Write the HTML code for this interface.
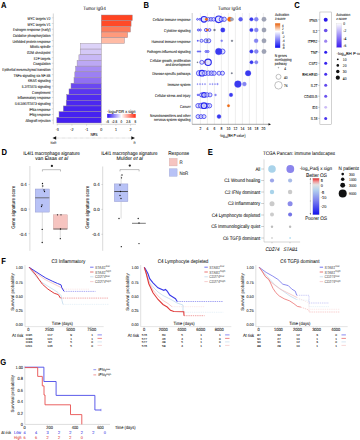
<!DOCTYPE html>
<html><head><meta charset="utf-8"><style>
html,body{margin:0;padding:0;background:#fff;width:360px;height:440px;overflow:hidden}
svg{display:block}
text{font-family:"Liberation Sans", sans-serif;text-rendering:geometricPrecision}
</style></head><body>
<svg width="360" height="440" viewBox="0 0 360 440">
<rect width="360" height="440" fill="#fff"/>
<text x="1.00" y="7.64" font-size="8.74" text-anchor="start" fill="#000" stroke="#000" stroke-width="0.06" font-weight="bold" textLength="5.49" lengthAdjust="spacingAndGlyphs" >A</text>
<text x="94.50" y="9.91" font-size="4.83" text-anchor="middle" fill="#222" stroke="#222" stroke-width="0.06" textLength="22.50" lengthAdjust="spacingAndGlyphs" >Tumor IgG4</text>
<line x1="53.30" y1="13.50" x2="53.30" y2="124.30" stroke="#aaa" stroke-width="0.5" />
<line x1="56.80" y1="124.30" x2="136.00" y2="124.30" stroke="#aaa" stroke-width="0.5" />
<line x1="51.80" y1="17.84" x2="53.30" y2="17.84" stroke="#aaa" stroke-width="0.4" />
<text x="50.50" y="19.81" font-size="3.96" text-anchor="end" fill="#111" stroke="#111" stroke-width="0.07" textLength="22.94" lengthAdjust="spacingAndGlyphs" >MYC targets V2</text>
<line x1="51.80" y1="23.53" x2="53.30" y2="23.53" stroke="#aaa" stroke-width="0.4" />
<text x="50.50" y="25.50" font-size="3.96" text-anchor="end" fill="#111" stroke="#111" stroke-width="0.07" textLength="22.94" lengthAdjust="spacingAndGlyphs" >MYC targets V1</text>
<line x1="51.80" y1="29.21" x2="53.30" y2="29.21" stroke="#aaa" stroke-width="0.4" />
<text x="50.50" y="31.18" font-size="3.96" text-anchor="end" fill="#111" stroke="#111" stroke-width="0.07" textLength="37.39" lengthAdjust="spacingAndGlyphs" >Estrogen response (early)</text>
<line x1="51.80" y1="34.89" x2="53.30" y2="34.89" stroke="#aaa" stroke-width="0.4" />
<text x="50.50" y="36.86" font-size="3.96" text-anchor="end" fill="#111" stroke="#111" stroke-width="0.07" textLength="37.40" lengthAdjust="spacingAndGlyphs" >Oxidative phosphorylation</text>
<line x1="51.80" y1="40.58" x2="53.30" y2="40.58" stroke="#aaa" stroke-width="0.4" />
<text x="50.50" y="42.55" font-size="3.96" text-anchor="end" fill="#111" stroke="#111" stroke-width="0.07" textLength="38.12" lengthAdjust="spacingAndGlyphs" >Unfolded protein response</text>
<line x1="51.80" y1="46.26" x2="53.30" y2="46.26" stroke="#aaa" stroke-width="0.4" />
<text x="50.50" y="48.23" font-size="3.96" text-anchor="end" fill="#111" stroke="#111" stroke-width="0.07" textLength="20.59" lengthAdjust="spacingAndGlyphs" >Mitotic spindle</text>
<line x1="51.80" y1="51.95" x2="53.30" y2="51.95" stroke="#aaa" stroke-width="0.4" />
<text x="50.50" y="53.92" font-size="3.96" text-anchor="end" fill="#111" stroke="#111" stroke-width="0.07" textLength="23.48" lengthAdjust="spacingAndGlyphs" >G2M checkpoint</text>
<line x1="51.80" y1="57.63" x2="53.30" y2="57.63" stroke="#aaa" stroke-width="0.4" />
<text x="50.50" y="59.60" font-size="3.96" text-anchor="end" fill="#111" stroke="#111" stroke-width="0.07" textLength="16.80" lengthAdjust="spacingAndGlyphs" >E2F targets</text>
<line x1="51.80" y1="63.31" x2="53.30" y2="63.31" stroke="#aaa" stroke-width="0.4" />
<text x="50.50" y="65.28" font-size="3.96" text-anchor="end" fill="#111" stroke="#111" stroke-width="0.07" textLength="17.35" lengthAdjust="spacingAndGlyphs" >Coagulation</text>
<line x1="51.80" y1="69.00" x2="53.30" y2="69.00" stroke="#aaa" stroke-width="0.4" />
<text x="50.50" y="70.97" font-size="3.96" text-anchor="end" fill="#111" stroke="#111" stroke-width="0.07" textLength="48.23" lengthAdjust="spacingAndGlyphs" >Epithelial mesenchymal transition</text>
<line x1="51.80" y1="74.68" x2="53.30" y2="74.68" stroke="#aaa" stroke-width="0.4" />
<text x="50.50" y="76.65" font-size="3.96" text-anchor="end" fill="#111" stroke="#111" stroke-width="0.07" textLength="37.02" lengthAdjust="spacingAndGlyphs" >TNFa signaling via NF-kB</text>
<line x1="51.80" y1="80.37" x2="53.30" y2="80.37" stroke="#aaa" stroke-width="0.4" />
<text x="50.50" y="82.34" font-size="3.96" text-anchor="end" fill="#111" stroke="#111" stroke-width="0.07" textLength="22.58" lengthAdjust="spacingAndGlyphs" >KRAS signaling</text>
<line x1="51.80" y1="86.05" x2="53.30" y2="86.05" stroke="#aaa" stroke-width="0.4" />
<text x="50.50" y="88.02" font-size="3.96" text-anchor="end" fill="#111" stroke="#111" stroke-width="0.07" textLength="28.78" lengthAdjust="spacingAndGlyphs" >IL2/STAT5 signaling</text>
<line x1="51.80" y1="91.73" x2="53.30" y2="91.73" stroke="#aaa" stroke-width="0.4" />
<text x="50.50" y="93.70" font-size="3.96" text-anchor="end" fill="#111" stroke="#111" stroke-width="0.07" textLength="18.42" lengthAdjust="spacingAndGlyphs" >Complement</text>
<line x1="51.80" y1="97.42" x2="53.30" y2="97.42" stroke="#aaa" stroke-width="0.4" />
<text x="50.50" y="99.39" font-size="3.96" text-anchor="end" fill="#111" stroke="#111" stroke-width="0.07" textLength="33.06" lengthAdjust="spacingAndGlyphs" >Inflammatory response</text>
<line x1="51.80" y1="103.10" x2="53.30" y2="103.10" stroke="#aaa" stroke-width="0.4" />
<text x="50.50" y="105.07" font-size="3.96" text-anchor="end" fill="#111" stroke="#111" stroke-width="0.07" textLength="35.65" lengthAdjust="spacingAndGlyphs" >IL6/JAK/STAT3 signaling</text>
<line x1="51.80" y1="108.79" x2="53.30" y2="108.79" stroke="#aaa" stroke-width="0.4" />
<text x="50.50" y="110.76" font-size="3.96" text-anchor="end" fill="#111" stroke="#111" stroke-width="0.07" textLength="21.32" lengthAdjust="spacingAndGlyphs" >IFNa response</text>
<line x1="51.80" y1="114.47" x2="53.30" y2="114.47" stroke="#aaa" stroke-width="0.4" />
<text x="50.50" y="116.44" font-size="3.96" text-anchor="end" fill="#111" stroke="#111" stroke-width="0.07" textLength="21.32" lengthAdjust="spacingAndGlyphs" >IFNg response</text>
<line x1="51.80" y1="120.15" x2="53.30" y2="120.15" stroke="#aaa" stroke-width="0.4" />
<text x="50.50" y="122.12" font-size="3.96" text-anchor="end" fill="#111" stroke="#111" stroke-width="0.07" textLength="25.11" lengthAdjust="spacingAndGlyphs" >Allograft rejection</text>
<rect x="101.25" y="15.00" width="31.05" height="5.68" fill="#ff4422" stroke="#9a8f9a" stroke-width="0.45" />
<rect x="101.25" y="20.68" width="29.85" height="5.68" fill="#ff4a28" stroke="#9a8f9a" stroke-width="0.45" />
<rect x="101.25" y="26.37" width="29.25" height="5.68" fill="#ff7a58" stroke="#9a8f9a" stroke-width="0.45" />
<rect x="101.25" y="32.05" width="26.45" height="5.68" fill="#ff9a7c" stroke="#9a8f9a" stroke-width="0.45" />
<rect x="101.25" y="37.74" width="23.25" height="5.68" fill="#ffbba5" stroke="#9a8f9a" stroke-width="0.45" />
<rect x="80.60" y="43.42" width="20.65" height="5.68" fill="#dcd2f8" stroke="#9a8f9a" stroke-width="0.45" />
<rect x="80.20" y="49.10" width="21.05" height="5.68" fill="#d4c8f7" stroke="#9a8f9a" stroke-width="0.45" />
<rect x="78.90" y="54.79" width="22.35" height="5.68" fill="#c8b8f6" stroke="#9a8f9a" stroke-width="0.45" />
<rect x="77.10" y="60.47" width="24.15" height="5.68" fill="#bca8f5" stroke="#9a8f9a" stroke-width="0.45" />
<rect x="75.60" y="66.16" width="25.65" height="5.68" fill="#a68cf4" stroke="#9a8f9a" stroke-width="0.45" />
<rect x="74.80" y="71.84" width="26.45" height="5.68" fill="#9c80f3" stroke="#9a8f9a" stroke-width="0.45" />
<rect x="74.00" y="77.52" width="27.25" height="5.68" fill="#9070f2" stroke="#9a8f9a" stroke-width="0.45" />
<rect x="71.00" y="83.21" width="30.25" height="5.68" fill="#6a48f1" stroke="#9a8f9a" stroke-width="0.45" />
<rect x="69.00" y="88.89" width="32.25" height="5.68" fill="#5a36f0" stroke="#9a8f9a" stroke-width="0.45" />
<rect x="66.70" y="94.58" width="34.55" height="5.68" fill="#502cf0" stroke="#9a8f9a" stroke-width="0.45" />
<rect x="66.20" y="100.26" width="35.05" height="5.68" fill="#4c28f0" stroke="#9a8f9a" stroke-width="0.45" />
<rect x="63.30" y="105.94" width="37.95" height="5.68" fill="#4824f0" stroke="#9a8f9a" stroke-width="0.45" />
<rect x="59.00" y="111.63" width="42.25" height="5.68" fill="#4622f0" stroke="#9a8f9a" stroke-width="0.45" />
<rect x="56.80" y="117.31" width="44.45" height="5.68" fill="#4420f0" stroke="#9a8f9a" stroke-width="0.45" />
<line x1="57.24" y1="124.30" x2="57.24" y2="125.60" stroke="#aaa" stroke-width="0.4" />
<text x="57.24" y="130.70" font-size="4.39" text-anchor="middle" fill="#111" stroke="#111" stroke-width="0.07" textLength="3.20" lengthAdjust="spacingAndGlyphs" >-3</text>
<line x1="71.91" y1="124.30" x2="71.91" y2="125.60" stroke="#aaa" stroke-width="0.4" />
<text x="71.91" y="130.70" font-size="4.39" text-anchor="middle" fill="#111" stroke="#111" stroke-width="0.07" textLength="3.20" lengthAdjust="spacingAndGlyphs" >-2</text>
<line x1="86.58" y1="124.30" x2="86.58" y2="125.60" stroke="#aaa" stroke-width="0.4" />
<text x="86.58" y="130.70" font-size="4.39" text-anchor="middle" fill="#111" stroke="#111" stroke-width="0.07" textLength="3.20" lengthAdjust="spacingAndGlyphs" >-1</text>
<line x1="101.25" y1="124.30" x2="101.25" y2="125.60" stroke="#aaa" stroke-width="0.4" />
<text x="101.25" y="130.70" font-size="4.39" text-anchor="middle" fill="#111" stroke="#111" stroke-width="0.07" textLength="2.00" lengthAdjust="spacingAndGlyphs" >0</text>
<line x1="115.92" y1="124.30" x2="115.92" y2="125.60" stroke="#aaa" stroke-width="0.4" />
<text x="115.92" y="130.70" font-size="4.39" text-anchor="middle" fill="#111" stroke="#111" stroke-width="0.07" textLength="2.00" lengthAdjust="spacingAndGlyphs" >1</text>
<line x1="130.59" y1="124.30" x2="130.59" y2="125.60" stroke="#aaa" stroke-width="0.4" />
<text x="130.59" y="130.70" font-size="4.39" text-anchor="middle" fill="#111" stroke="#111" stroke-width="0.07" textLength="2.00" lengthAdjust="spacingAndGlyphs" >2</text>
<text x="94.00" y="135.86" font-size="4.27" text-anchor="middle" fill="#111" stroke="#111" stroke-width="0.07" textLength="7.20" lengthAdjust="spacingAndGlyphs" >NES</text>
<line x1="56.00" y1="138.00" x2="132.00" y2="138.00" stroke="#999" stroke-width="0.5" stroke-dasharray="0.6 0.6"/>
<polygon points="52.5,138 56.2,136.2 56.2,139.8" fill="#111"/>
<polygon points="135,138 131.3,136.2 131.3,139.8" fill="#111"/>
<text x="53.50" y="143.84" font-size="3.54" text-anchor="middle" fill="#222" stroke="#222" stroke-width="0.07" textLength="5.80" lengthAdjust="spacingAndGlyphs" >NoR</text>
<text x="134.50" y="143.84" font-size="3.54" text-anchor="middle" fill="#222" stroke="#222" stroke-width="0.07" textLength="2.09" lengthAdjust="spacingAndGlyphs" >R</text>
<text x="121.30" y="112.58" font-size="4.33" text-anchor="middle" fill="#111" stroke="#111" stroke-width="0.07" textLength="28.40" lengthAdjust="spacingAndGlyphs" >-log<tspan font-size="2.4" dy="0.9">10</tspan><tspan dy="-0.9">FDR x sign</tspan></text>
<defs><linearGradient id="gA" x1="0" x2="1" y1="0" y2="0"><stop offset="0" stop-color="#2a10f0"/><stop offset="0.5" stop-color="#ffffff"/><stop offset="1" stop-color="#ff2a10"/></linearGradient></defs>
<rect x="107.20" y="113.90" width="28.50" height="3.90" fill="url(#gA)" stroke="none" stroke-width="0.4" />
<text x="107.50" y="122.52" font-size="3.78" text-anchor="middle" fill="#111" stroke="#111" stroke-width="0.07" textLength="2.76" lengthAdjust="spacingAndGlyphs" >-5</text>
<text x="114.50" y="122.52" font-size="3.78" text-anchor="middle" fill="#111" stroke="#111" stroke-width="0.07" textLength="5.34" lengthAdjust="spacingAndGlyphs" >-2.5</text>
<text x="121.30" y="122.52" font-size="3.78" text-anchor="middle" fill="#111" stroke="#111" stroke-width="0.07" textLength="1.72" lengthAdjust="spacingAndGlyphs" >0</text>
<text x="128.30" y="122.52" font-size="3.78" text-anchor="middle" fill="#111" stroke="#111" stroke-width="0.07" textLength="4.31" lengthAdjust="spacingAndGlyphs" >2.5</text>
<text x="135.30" y="122.52" font-size="3.78" text-anchor="middle" fill="#111" stroke="#111" stroke-width="0.07" textLength="1.72" lengthAdjust="spacingAndGlyphs" >5</text>
<text x="143.50" y="7.94" font-size="8.74" text-anchor="start" fill="#000" stroke="#000" stroke-width="0.06" font-weight="bold" textLength="5.49" lengthAdjust="spacingAndGlyphs" >B</text>
<text x="229.50" y="9.91" font-size="4.83" text-anchor="middle" fill="#222" stroke="#222" stroke-width="0.06" textLength="22.80" lengthAdjust="spacingAndGlyphs" >Tumor IgG4</text>
<text x="190.50" y="21.27" font-size="3.96" text-anchor="end" fill="#111" stroke="#111" stroke-width="0.07" textLength="37.75" lengthAdjust="spacingAndGlyphs" >Cellular immune response</text>
<text x="190.50" y="31.97" font-size="3.96" text-anchor="end" fill="#111" stroke="#111" stroke-width="0.07" textLength="26.38" lengthAdjust="spacingAndGlyphs" >Cytokine signaling</text>
<text x="190.50" y="42.77" font-size="3.96" text-anchor="end" fill="#111" stroke="#111" stroke-width="0.07" textLength="39.02" lengthAdjust="spacingAndGlyphs" >Humoral immune response</text>
<text x="190.50" y="53.47" font-size="3.96" text-anchor="end" fill="#111" stroke="#111" stroke-width="0.07" textLength="43.55" lengthAdjust="spacingAndGlyphs" >Pathogen-influenced signaling</text>
<text x="190.50" y="62.27" font-size="3.96" text-anchor="end" fill="#111" stroke="#111" stroke-width="0.07" textLength="40.46" lengthAdjust="spacingAndGlyphs" >Cellular growth, proliferation</text>
<text x="190.50" y="66.27" font-size="3.96" text-anchor="end" fill="#111" stroke="#111" stroke-width="0.07" textLength="24.94" lengthAdjust="spacingAndGlyphs" >and development</text>
<text x="190.50" y="75.17" font-size="3.96" text-anchor="end" fill="#111" stroke="#111" stroke-width="0.07" textLength="38.29" lengthAdjust="spacingAndGlyphs" >Disease-specific pathways</text>
<text x="190.50" y="86.07" font-size="3.96" text-anchor="end" fill="#111" stroke="#111" stroke-width="0.07" textLength="22.94" lengthAdjust="spacingAndGlyphs" >Immune system</text>
<text x="190.50" y="96.87" font-size="3.96" text-anchor="end" fill="#111" stroke="#111" stroke-width="0.07" textLength="35.58" lengthAdjust="spacingAndGlyphs" >Cellular stress and injury</text>
<text x="190.50" y="107.67" font-size="3.96" text-anchor="end" fill="#111" stroke="#111" stroke-width="0.07" textLength="10.48" lengthAdjust="spacingAndGlyphs" >Cancer</text>
<text x="190.50" y="116.57" font-size="3.96" text-anchor="end" fill="#111" stroke="#111" stroke-width="0.07" textLength="40.46" lengthAdjust="spacingAndGlyphs" >Neurotransmitters and other</text>
<text x="190.50" y="120.57" font-size="3.96" text-anchor="end" fill="#111" stroke="#111" stroke-width="0.07" textLength="36.49" lengthAdjust="spacingAndGlyphs" >nervous system signaling</text>
<line x1="200.40" y1="13.00" x2="200.40" y2="124.30" stroke="#e2e2e2" stroke-width="0.6" />
<text x="200.40" y="130.32" font-size="4.15" text-anchor="middle" fill="#111" stroke="#111" stroke-width="0.07" textLength="1.89" lengthAdjust="spacingAndGlyphs" >2</text>
<line x1="207.40" y1="13.00" x2="207.40" y2="124.30" stroke="#e2e2e2" stroke-width="0.6" />
<text x="207.40" y="130.32" font-size="4.15" text-anchor="middle" fill="#111" stroke="#111" stroke-width="0.07" textLength="1.89" lengthAdjust="spacingAndGlyphs" >4</text>
<line x1="214.40" y1="13.00" x2="214.40" y2="124.30" stroke="#e2e2e2" stroke-width="0.6" />
<text x="214.40" y="130.32" font-size="4.15" text-anchor="middle" fill="#111" stroke="#111" stroke-width="0.07" textLength="1.89" lengthAdjust="spacingAndGlyphs" >6</text>
<line x1="221.40" y1="13.00" x2="221.40" y2="124.30" stroke="#e2e2e2" stroke-width="0.6" />
<text x="221.40" y="130.32" font-size="4.15" text-anchor="middle" fill="#111" stroke="#111" stroke-width="0.07" textLength="1.89" lengthAdjust="spacingAndGlyphs" >8</text>
<line x1="228.40" y1="13.00" x2="228.40" y2="124.30" stroke="#e2e2e2" stroke-width="0.6" />
<text x="228.40" y="130.32" font-size="4.15" text-anchor="middle" fill="#111" stroke="#111" stroke-width="0.07" textLength="3.78" lengthAdjust="spacingAndGlyphs" >10</text>
<line x1="235.40" y1="13.00" x2="235.40" y2="124.30" stroke="#e2e2e2" stroke-width="0.6" />
<text x="235.40" y="130.32" font-size="4.15" text-anchor="middle" fill="#111" stroke="#111" stroke-width="0.07" textLength="3.78" lengthAdjust="spacingAndGlyphs" >12</text>
<line x1="242.40" y1="13.00" x2="242.40" y2="124.30" stroke="#e2e2e2" stroke-width="0.6" />
<text x="242.40" y="130.32" font-size="4.15" text-anchor="middle" fill="#111" stroke="#111" stroke-width="0.07" textLength="3.78" lengthAdjust="spacingAndGlyphs" >14</text>
<line x1="249.40" y1="13.00" x2="249.40" y2="124.30" stroke="#e2e2e2" stroke-width="0.6" />
<text x="249.40" y="130.32" font-size="4.15" text-anchor="middle" fill="#111" stroke="#111" stroke-width="0.07" textLength="3.78" lengthAdjust="spacingAndGlyphs" >16</text>
<line x1="256.40" y1="13.00" x2="256.40" y2="124.30" stroke="#e2e2e2" stroke-width="0.6" />
<text x="256.40" y="130.32" font-size="4.15" text-anchor="middle" fill="#111" stroke="#111" stroke-width="0.07" textLength="3.78" lengthAdjust="spacingAndGlyphs" >18</text>
<line x1="263.40" y1="13.00" x2="263.40" y2="124.30" stroke="#e2e2e2" stroke-width="0.6" />
<text x="263.40" y="130.32" font-size="4.15" text-anchor="middle" fill="#111" stroke="#111" stroke-width="0.07" textLength="3.78" lengthAdjust="spacingAndGlyphs" >20</text>
<line x1="192.20" y1="13.00" x2="192.20" y2="124.30" stroke="#999" stroke-width="0.5" />
<line x1="192.20" y1="124.30" x2="269.50" y2="124.30" stroke="#222" stroke-width="0.4" />
<polygon points="271,124.3 268.5,123.2 268.5,125.4" fill="#111"/>
<text x="232.50" y="137.36" font-size="4.27" text-anchor="middle" fill="#111" stroke="#111" stroke-width="0.07" textLength="26.00" lengthAdjust="spacingAndGlyphs" >-log<tspan font-size="2.5" dy="0.9">10</tspan><tspan dy="-0.9">(BH P value)</tspan></text>
<circle cx="197.50" cy="19.30" r="0.90" fill="#c8c8fa" stroke="#3535f0" stroke-width="0.75" fill-opacity="0.55"/>
<circle cx="200.00" cy="19.30" r="1.00" fill="#c8c8fa" stroke="#3535f0" stroke-width="0.75" fill-opacity="0.55"/>
<circle cx="204.00" cy="19.30" r="2.80" fill="#d8d8fb" stroke="#2828ee" stroke-width="1.1" fill-opacity="0.7"/>
<circle cx="208.50" cy="19.30" r="1.80" fill="#c8c8fa" stroke="#3535f0" stroke-width="0.75" fill-opacity="0.55"/>
<circle cx="211.00" cy="19.30" r="1.80" fill="#c8c8fa" stroke="#3535f0" stroke-width="0.75" fill-opacity="0.55"/>
<circle cx="213.50" cy="19.30" r="1.80" fill="#c8c8fa" stroke="#3535f0" stroke-width="0.75" fill-opacity="0.55"/>
<circle cx="206.40" cy="19.30" r="1.20" fill="#f26a10" stroke="#e05a00" stroke-width="0.3" />
<circle cx="218.70" cy="19.30" r="3.30" fill="#d8d8fb" stroke="#2828ee" stroke-width="1.1" fill-opacity="0.7"/>
<circle cx="221.50" cy="19.30" r="2.30" fill="#c8c8fa" stroke="#3535f0" stroke-width="0.75" fill-opacity="0.55"/>
<circle cx="224.20" cy="19.30" r="2.20" fill="#c8c8fa" stroke="#3535f0" stroke-width="0.75" fill-opacity="0.55"/>
<circle cx="229.80" cy="19.30" r="2.30" fill="#f26a10" stroke="#e05a00" stroke-width="0.3" />
<circle cx="231.90" cy="19.30" r="1.70" fill="#9ea3b5" stroke="#8e93a5" stroke-width="0.3" />
<circle cx="240.60" cy="19.30" r="2.00" fill="#5c5cf0" stroke="#5050f0" stroke-width="0.3" />
<circle cx="251.40" cy="19.30" r="1.80" fill="#3a3af0" stroke="#3a3af0" stroke-width="0.3" />
<circle cx="256.30" cy="19.30" r="2.00" fill="#8585f2" stroke="#7373f0" stroke-width="0.3" />
<circle cx="264.00" cy="19.30" r="2.20" fill="#9ea3b5" stroke="#8e93a5" stroke-width="0.3" />
<circle cx="198.30" cy="30.00" r="1.00" fill="#c8c8fa" stroke="#3535f0" stroke-width="0.75" fill-opacity="0.55"/>
<circle cx="200.30" cy="30.00" r="1.00" fill="#c8c8fa" stroke="#3535f0" stroke-width="0.75" fill-opacity="0.55"/>
<circle cx="206.00" cy="30.00" r="1.60" fill="#c8c8fa" stroke="#3535f0" stroke-width="0.75" fill-opacity="0.55"/>
<circle cx="209.50" cy="30.00" r="1.40" fill="#c8c8fa" stroke="#3535f0" stroke-width="0.75" fill-opacity="0.55"/>
<circle cx="207.20" cy="30.00" r="1.10" fill="#f26a10" stroke="#e05a00" stroke-width="0.3" />
<circle cx="214.50" cy="30.00" r="1.00" fill="#6e7385" stroke="#6e7385" stroke-width="0.3" />
<circle cx="222.80" cy="30.00" r="2.20" fill="#3a3af0" stroke="#3a3af0" stroke-width="0.3" />
<circle cx="251.40" cy="30.00" r="1.80" fill="#3a3af0" stroke="#3a3af0" stroke-width="0.3" />
<circle cx="256.30" cy="30.00" r="2.00" fill="#8585f2" stroke="#7373f0" stroke-width="0.3" />
<circle cx="264.00" cy="30.00" r="2.20" fill="#9ea3b5" stroke="#8e93a5" stroke-width="0.3" />
<circle cx="197.80" cy="40.80" r="0.70" fill="#3a3af0" stroke="#3a3af0" stroke-width="0.3" />
<circle cx="201.50" cy="40.80" r="1.50" fill="#c8c8fa" stroke="#3535f0" stroke-width="0.75" fill-opacity="0.55"/>
<circle cx="206.00" cy="40.80" r="2.00" fill="#c8c8fa" stroke="#3535f0" stroke-width="0.75" fill-opacity="0.55"/>
<circle cx="208.80" cy="40.80" r="2.00" fill="#c8c8fa" stroke="#3535f0" stroke-width="0.75" fill-opacity="0.55"/>
<circle cx="207.40" cy="40.80" r="0.80" fill="#6e7385" stroke="#6e7385" stroke-width="0.3" />
<circle cx="221.70" cy="40.80" r="1.00" fill="#8585f2" stroke="#7373f0" stroke-width="0.3" />
<circle cx="232.00" cy="40.80" r="0.90" fill="#6e7385" stroke="#6e7385" stroke-width="0.3" />
<circle cx="256.10" cy="40.80" r="2.00" fill="#8585f2" stroke="#7373f0" stroke-width="0.3" />
<circle cx="264.00" cy="40.80" r="2.20" fill="#9ea3b5" stroke="#8e93a5" stroke-width="0.3" />
<circle cx="198.00" cy="51.50" r="0.70" fill="#c8c8fa" stroke="#3535f0" stroke-width="0.75" fill-opacity="0.55"/>
<circle cx="200.00" cy="51.50" r="0.70" fill="#c8c8fa" stroke="#3535f0" stroke-width="0.75" fill-opacity="0.55"/>
<circle cx="206.00" cy="51.50" r="1.00" fill="#c8c8fa" stroke="#3535f0" stroke-width="0.75" fill-opacity="0.55"/>
<circle cx="208.00" cy="51.50" r="1.00" fill="#c8c8fa" stroke="#3535f0" stroke-width="0.75" fill-opacity="0.55"/>
<circle cx="222.50" cy="51.50" r="2.50" fill="#c8c8fa" stroke="#3535f0" stroke-width="0.75" fill-opacity="0.55"/>
<circle cx="218.70" cy="51.50" r="3.30" fill="#3a3af0" stroke="#3a3af0" stroke-width="0.3" />
<circle cx="251.40" cy="51.50" r="1.80" fill="#3a3af0" stroke="#3a3af0" stroke-width="0.3" />
<circle cx="256.30" cy="51.50" r="2.00" fill="#8585f2" stroke="#7373f0" stroke-width="0.3" />
<circle cx="264.00" cy="51.50" r="2.20" fill="#9ea3b5" stroke="#8e93a5" stroke-width="0.3" />
<circle cx="197.50" cy="62.30" r="0.60" fill="#6e7385" stroke="#6e7385" stroke-width="0.3" />
<circle cx="201.80" cy="62.30" r="2.00" fill="#c8c8fa" stroke="#3535f0" stroke-width="0.75" fill-opacity="0.55"/>
<circle cx="205.00" cy="62.30" r="1.00" fill="#f26a10" stroke="#e05a00" stroke-width="0.3" />
<circle cx="208.10" cy="62.30" r="3.20" fill="#d8d8fb" stroke="#2828ee" stroke-width="1.1" fill-opacity="0.7"/>
<circle cx="251.50" cy="62.30" r="1.70" fill="#3a3af0" stroke="#3a3af0" stroke-width="0.3" />
<circle cx="256.30" cy="62.30" r="1.70" fill="#8585f2" stroke="#7373f0" stroke-width="0.3" />
<circle cx="199.00" cy="73.20" r="2.60" fill="#c8c8fa" stroke="#3535f0" stroke-width="0.75" fill-opacity="0.55"/>
<circle cx="202.00" cy="73.20" r="2.80" fill="#d8d8fb" stroke="#2828ee" stroke-width="1.1" fill-opacity="0.7"/>
<circle cx="205.00" cy="73.20" r="2.50" fill="#c8c8fa" stroke="#3535f0" stroke-width="0.75" fill-opacity="0.55"/>
<circle cx="208.50" cy="73.20" r="2.30" fill="#c8c8fa" stroke="#3535f0" stroke-width="0.75" fill-opacity="0.55"/>
<circle cx="211.50" cy="73.20" r="2.30" fill="#c8c8fa" stroke="#3535f0" stroke-width="0.75" fill-opacity="0.55"/>
<circle cx="214.00" cy="73.20" r="2.20" fill="#c8c8fa" stroke="#3535f0" stroke-width="0.75" fill-opacity="0.55"/>
<circle cx="219.00" cy="73.20" r="2.00" fill="#c8c8fa" stroke="#3535f0" stroke-width="0.75" fill-opacity="0.55"/>
<circle cx="222.50" cy="73.20" r="2.00" fill="#c8c8fa" stroke="#3535f0" stroke-width="0.75" fill-opacity="0.55"/>
<circle cx="231.80" cy="73.20" r="0.80" fill="#6e7385" stroke="#6e7385" stroke-width="0.3" />
<circle cx="248.10" cy="73.20" r="2.80" fill="#3a3af0" stroke="#3a3af0" stroke-width="0.3" />
<circle cx="197.50" cy="84.10" r="0.60" fill="#8585f2" stroke="#7373f0" stroke-width="0.3" />
<circle cx="200.00" cy="84.10" r="0.70" fill="#8585f2" stroke="#7373f0" stroke-width="0.3" />
<circle cx="202.50" cy="84.10" r="0.60" fill="#8585f2" stroke="#7373f0" stroke-width="0.3" />
<circle cx="205.00" cy="84.10" r="0.70" fill="#8585f2" stroke="#7373f0" stroke-width="0.3" />
<circle cx="210.00" cy="84.10" r="0.60" fill="#8585f2" stroke="#7373f0" stroke-width="0.3" />
<circle cx="212.50" cy="84.10" r="0.70" fill="#8585f2" stroke="#7373f0" stroke-width="0.3" />
<circle cx="215.00" cy="84.10" r="0.60" fill="#8585f2" stroke="#7373f0" stroke-width="0.3" />
<circle cx="217.50" cy="84.10" r="0.80" fill="#8585f2" stroke="#7373f0" stroke-width="0.3" />
<circle cx="237.90" cy="84.10" r="3.40" fill="#3a3af0" stroke="#3a3af0" stroke-width="0.3" />
<circle cx="244.40" cy="84.10" r="2.00" fill="#8585f2" stroke="#7373f0" stroke-width="0.3" />
<circle cx="198.00" cy="94.90" r="0.80" fill="#c8c8fa" stroke="#3535f0" stroke-width="0.75" fill-opacity="0.55"/>
<circle cx="201.50" cy="94.90" r="2.00" fill="#c8c8fa" stroke="#3535f0" stroke-width="0.75" fill-opacity="0.55"/>
<circle cx="204.00" cy="94.90" r="2.30" fill="#d8d8fb" stroke="#2828ee" stroke-width="1.1" fill-opacity="0.7"/>
<circle cx="207.00" cy="94.90" r="2.20" fill="#c8c8fa" stroke="#3535f0" stroke-width="0.75" fill-opacity="0.55"/>
<circle cx="210.00" cy="94.90" r="2.00" fill="#c8c8fa" stroke="#3535f0" stroke-width="0.75" fill-opacity="0.55"/>
<circle cx="215.50" cy="94.90" r="1.00" fill="#8585f2" stroke="#7373f0" stroke-width="0.3" />
<circle cx="231.00" cy="94.90" r="1.80" fill="#3a3af0" stroke="#3a3af0" stroke-width="0.3" />
<circle cx="198.00" cy="105.70" r="2.20" fill="#c8c8fa" stroke="#3535f0" stroke-width="0.75" fill-opacity="0.55"/>
<circle cx="201.00" cy="105.70" r="2.50" fill="#c8c8fa" stroke="#3535f0" stroke-width="0.75" fill-opacity="0.55"/>
<circle cx="207.00" cy="105.70" r="2.50" fill="#c8c8fa" stroke="#3535f0" stroke-width="0.75" fill-opacity="0.55"/>
<circle cx="204.00" cy="105.70" r="2.80" fill="#d8d8fb" stroke="#2828ee" stroke-width="1.1" fill-opacity="0.7"/>
<circle cx="209.50" cy="105.70" r="2.20" fill="#c8c8fa" stroke="#3535f0" stroke-width="0.75" fill-opacity="0.55"/>
<circle cx="228.50" cy="105.70" r="1.20" fill="#f26a10" stroke="#e05a00" stroke-width="0.3" />
<circle cx="198.00" cy="116.60" r="2.00" fill="#c8c8fa" stroke="#3535f0" stroke-width="0.75" fill-opacity="0.55"/>
<circle cx="201.00" cy="116.60" r="2.00" fill="#c8c8fa" stroke="#3535f0" stroke-width="0.75" fill-opacity="0.55"/>
<circle cx="204.00" cy="116.60" r="2.00" fill="#c8c8fa" stroke="#3535f0" stroke-width="0.75" fill-opacity="0.55"/>
<circle cx="219.00" cy="116.60" r="2.00" fill="#3a3af0" stroke="#3a3af0" stroke-width="0.3" />
<text x="274.90" y="16.27" font-size="3.96" text-anchor="start" fill="#111" stroke="#111" stroke-width="0.07" textLength="14.09" lengthAdjust="spacingAndGlyphs" >Activation</text>
<text x="274.90" y="20.17" font-size="3.96" text-anchor="start" fill="#111" stroke="#111" stroke-width="0.07" textLength="10.65" lengthAdjust="spacingAndGlyphs" >z-score</text>
<defs><linearGradient id="gB" x1="0" x2="0" y1="0" y2="1"><stop offset="0" stop-color="#e8600a"/><stop offset="0.33" stop-color="#ffffff"/><stop offset="1" stop-color="#0a0af0"/></linearGradient></defs>
<rect x="275.10" y="23.30" width="5.10" height="24.50" fill="url(#gB)" stroke="none" stroke-width="0.4" />
<text x="282.00" y="26.84" font-size="3.54" text-anchor="start" fill="#111" stroke="#111" stroke-width="0.07" textLength="1.61" lengthAdjust="spacingAndGlyphs" >4</text>
<text x="282.00" y="30.34" font-size="3.54" text-anchor="start" fill="#111" stroke="#111" stroke-width="0.07" textLength="1.61" lengthAdjust="spacingAndGlyphs" >2</text>
<text x="282.00" y="34.24" font-size="3.54" text-anchor="start" fill="#111" stroke="#111" stroke-width="0.07" textLength="1.61" lengthAdjust="spacingAndGlyphs" >0</text>
<text x="282.00" y="38.04" font-size="3.54" text-anchor="start" fill="#111" stroke="#111" stroke-width="0.07" textLength="2.58" lengthAdjust="spacingAndGlyphs" >-2</text>
<text x="282.00" y="41.84" font-size="3.54" text-anchor="start" fill="#111" stroke="#111" stroke-width="0.07" textLength="2.58" lengthAdjust="spacingAndGlyphs" >-4</text>
<text x="282.00" y="45.54" font-size="3.54" text-anchor="start" fill="#111" stroke="#111" stroke-width="0.07" textLength="2.58" lengthAdjust="spacingAndGlyphs" >-6</text>
<text x="282.00" y="49.14" font-size="3.54" text-anchor="start" fill="#111" stroke="#111" stroke-width="0.07" textLength="2.58" lengthAdjust="spacingAndGlyphs" >-8</text>
<text x="274.80" y="56.67" font-size="3.96" text-anchor="start" fill="#111" stroke="#111" stroke-width="0.07" textLength="12.11" lengthAdjust="spacingAndGlyphs" >N genes</text>
<text x="274.80" y="60.57" font-size="3.96" text-anchor="start" fill="#111" stroke="#111" stroke-width="0.07" textLength="16.80" lengthAdjust="spacingAndGlyphs" >overlapping</text>
<text x="274.80" y="64.57" font-size="3.96" text-anchor="start" fill="#111" stroke="#111" stroke-width="0.07" textLength="12.11" lengthAdjust="spacingAndGlyphs" >pathway</text>
<circle cx="278.50" cy="67.70" r="0.45" fill="#888" stroke="#777" stroke-width="0.3" />
<text x="284.20" y="69.65" font-size="3.90" text-anchor="start" fill="#111" stroke="#111" stroke-width="0.07" textLength="1.78" lengthAdjust="spacingAndGlyphs" >4</text>
<circle cx="278.50" cy="76.80" r="2.50" fill="#fff" stroke="#666" stroke-width="0.4" />
<text x="284.00" y="78.75" font-size="3.90" text-anchor="start" fill="#111" stroke="#111" stroke-width="0.07" textLength="3.56" lengthAdjust="spacingAndGlyphs" >40</text>
<circle cx="278.50" cy="85.30" r="3.75" fill="#fff" stroke="#666" stroke-width="0.4" />
<text x="284.00" y="87.25" font-size="3.90" text-anchor="start" fill="#111" stroke="#111" stroke-width="0.07" textLength="3.56" lengthAdjust="spacingAndGlyphs" >76</text>
<text x="294.30" y="7.74" font-size="8.74" text-anchor="start" fill="#000" stroke="#000" stroke-width="0.06" font-weight="bold" textLength="5.49" lengthAdjust="spacingAndGlyphs" >C</text>
<rect x="319.90" y="12.00" width="11.70" height="112.50" fill="#fff" stroke="#999" stroke-width="0.45" />
<text x="317.50" y="21.74" font-size="4.21" text-anchor="end" fill="#111" stroke="#111" stroke-width="0.07" textLength="8.24" lengthAdjust="spacingAndGlyphs" >IFNG</text>
<line x1="318.00" y1="19.70" x2="319.90" y2="19.70" stroke="#888" stroke-width="0.35" />
<circle cx="325.70" cy="19.70" r="2.00" fill="#2a18ea" stroke="none" stroke-width="0.4" />
<text x="317.50" y="32.54" font-size="4.21" text-anchor="end" fill="#111" stroke="#111" stroke-width="0.07" textLength="4.80" lengthAdjust="spacingAndGlyphs" >IL2</text>
<line x1="318.00" y1="30.50" x2="319.90" y2="30.50" stroke="#888" stroke-width="0.35" />
<circle cx="325.70" cy="30.50" r="1.80" fill="#6a50ea" stroke="none" stroke-width="0.4" />
<text x="317.50" y="43.24" font-size="4.21" text-anchor="end" fill="#111" stroke="#111" stroke-width="0.07" textLength="9.78" lengthAdjust="spacingAndGlyphs" >ITPR2</text>
<line x1="318.00" y1="41.20" x2="319.90" y2="41.20" stroke="#888" stroke-width="0.35" />
<circle cx="325.70" cy="41.20" r="1.60" fill="#9c84f0" stroke="none" stroke-width="0.4" />
<text x="317.50" y="54.24" font-size="4.21" text-anchor="end" fill="#111" stroke="#111" stroke-width="0.07" textLength="6.71" lengthAdjust="spacingAndGlyphs" >TNF</text>
<line x1="318.00" y1="52.20" x2="319.90" y2="52.20" stroke="#888" stroke-width="0.35" />
<circle cx="325.70" cy="52.20" r="1.50" fill="#2c1eee" stroke="none" stroke-width="0.4" />
<text x="317.50" y="65.24" font-size="4.21" text-anchor="end" fill="#111" stroke="#111" stroke-width="0.07" textLength="8.82" lengthAdjust="spacingAndGlyphs" >CSF2</text>
<line x1="318.00" y1="63.20" x2="319.90" y2="63.20" stroke="#888" stroke-width="0.35" />
<circle cx="325.70" cy="63.20" r="1.50" fill="#3522ee" stroke="none" stroke-width="0.4" />
<text x="317.50" y="76.34" font-size="4.21" text-anchor="end" fill="#111" stroke="#111" stroke-width="0.07" textLength="15.34" lengthAdjust="spacingAndGlyphs" >BHLHE40</text>
<line x1="318.00" y1="74.30" x2="319.90" y2="74.30" stroke="#888" stroke-width="0.35" />
<circle cx="325.70" cy="74.30" r="1.50" fill="#4430ee" stroke="none" stroke-width="0.4" />
<text x="317.50" y="87.34" font-size="4.21" text-anchor="end" fill="#111" stroke="#111" stroke-width="0.07" textLength="6.71" lengthAdjust="spacingAndGlyphs" >IL27</text>
<line x1="318.00" y1="85.30" x2="319.90" y2="85.30" stroke="#888" stroke-width="0.35" />
<circle cx="325.70" cy="85.30" r="1.50" fill="#6048ee" stroke="none" stroke-width="0.4" />
<text x="317.50" y="98.24" font-size="4.21" text-anchor="end" fill="#111" stroke="#111" stroke-width="0.07" textLength="13.42" lengthAdjust="spacingAndGlyphs" >CD40LG</text>
<line x1="318.00" y1="96.20" x2="319.90" y2="96.20" stroke="#888" stroke-width="0.35" />
<circle cx="325.70" cy="96.20" r="1.50" fill="#6a52ee" stroke="none" stroke-width="0.4" />
<text x="317.50" y="109.34" font-size="4.21" text-anchor="end" fill="#111" stroke="#111" stroke-width="0.07" textLength="5.37" lengthAdjust="spacingAndGlyphs" >ID3</text>
<line x1="318.00" y1="107.30" x2="319.90" y2="107.30" stroke="#888" stroke-width="0.35" />
<circle cx="325.70" cy="107.30" r="1.40" fill="#cbbcf6" stroke="none" stroke-width="0.4" />
<text x="317.50" y="120.44" font-size="4.21" text-anchor="end" fill="#111" stroke="#111" stroke-width="0.07" textLength="6.71" lengthAdjust="spacingAndGlyphs" >IL18</text>
<line x1="318.00" y1="118.40" x2="319.90" y2="118.40" stroke="#888" stroke-width="0.35" />
<circle cx="325.70" cy="118.40" r="1.50" fill="#4c36ee" stroke="none" stroke-width="0.4" />
<text x="336.30" y="15.65" font-size="3.90" text-anchor="start" fill="#111" stroke="#111" stroke-width="0.07" textLength="13.87" lengthAdjust="spacingAndGlyphs" >Activation</text>
<text x="336.30" y="19.55" font-size="3.90" text-anchor="start" fill="#111" stroke="#111" stroke-width="0.07" textLength="10.49" lengthAdjust="spacingAndGlyphs" >z-score</text>
<defs><linearGradient id="gC" x1="0" x2="0" y1="0" y2="1"><stop offset="0" stop-color="#ffffff"/><stop offset="1" stop-color="#3a1af0"/></linearGradient></defs>
<rect x="336.50" y="23.30" width="5.20" height="24.20" fill="url(#gC)" stroke="#ccc" stroke-width="0.25" />
<text x="343.30" y="25.49" font-size="4.03" text-anchor="start" fill="#111" stroke="#111" stroke-width="0.07" textLength="1.84" lengthAdjust="spacingAndGlyphs" >0</text>
<text x="343.30" y="32.49" font-size="4.03" text-anchor="start" fill="#111" stroke="#111" stroke-width="0.07" textLength="2.93" lengthAdjust="spacingAndGlyphs" >-2</text>
<text x="343.30" y="39.59" font-size="4.03" text-anchor="start" fill="#111" stroke="#111" stroke-width="0.07" textLength="2.93" lengthAdjust="spacingAndGlyphs" >-4</text>
<text x="343.30" y="46.79" font-size="4.03" text-anchor="start" fill="#111" stroke="#111" stroke-width="0.07" textLength="2.93" lengthAdjust="spacingAndGlyphs" >-6</text>
<text x="336.60" y="55.32" font-size="4.15" text-anchor="start" fill="#111" stroke="#111" stroke-width="0.07" >-log<tspan font-size="2.3" dy="0.8">10</tspan><tspan dy="-0.8">BH P-value</tspan></text>
<circle cx="337.80" cy="59.30" r="0.90" fill="#111" stroke="none" stroke-width="0.4" />
<text x="342.80" y="61.29" font-size="4.03" text-anchor="start" fill="#111" stroke="#111" stroke-width="0.07" textLength="3.67" lengthAdjust="spacingAndGlyphs" >10</text>
<circle cx="337.80" cy="65.40" r="1.30" fill="#111" stroke="none" stroke-width="0.4" />
<text x="342.80" y="67.39" font-size="4.03" text-anchor="start" fill="#111" stroke="#111" stroke-width="0.07" textLength="3.67" lengthAdjust="spacingAndGlyphs" >20</text>
<circle cx="337.80" cy="71.50" r="1.70" fill="#111" stroke="none" stroke-width="0.4" />
<text x="342.80" y="73.49" font-size="4.03" text-anchor="start" fill="#111" stroke="#111" stroke-width="0.07" textLength="3.67" lengthAdjust="spacingAndGlyphs" >30</text>
<circle cx="337.80" cy="77.70" r="2.10" fill="#111" stroke="none" stroke-width="0.4" />
<text x="342.80" y="79.69" font-size="4.03" text-anchor="start" fill="#111" stroke="#111" stroke-width="0.07" textLength="3.67" lengthAdjust="spacingAndGlyphs" >40</text>
<text x="1.50" y="154.64" font-size="8.74" text-anchor="start" fill="#000" stroke="#000" stroke-width="0.06" font-weight="bold" textLength="5.49" lengthAdjust="spacingAndGlyphs" >D</text>
<text x="51.60" y="154.58" font-size="5.06" text-anchor="middle" fill="#111" stroke="#111" stroke-width="0.06" textLength="56.50" lengthAdjust="spacingAndGlyphs" >IL4I1 macrophage signature</text>
<text x="51.60" y="160.28" font-size="5.06" text-anchor="middle" fill="#111" stroke="#111" stroke-width="0.06" >van Elsas <tspan font-style="italic">et al</tspan></text>
<text x="129.40" y="154.58" font-size="5.06" text-anchor="middle" fill="#111" stroke="#111" stroke-width="0.06" textLength="56.50" lengthAdjust="spacingAndGlyphs" >IL4I1 macrophage signature</text>
<text x="129.70" y="160.18" font-size="5.06" text-anchor="middle" fill="#111" stroke="#111" stroke-width="0.06" >Mulder <tspan font-style="italic">et al</tspan></text>
<line x1="29.90" y1="166.00" x2="29.90" y2="250.80" stroke="#bbb" stroke-width="0.55" />
<line x1="28.60" y1="184.50" x2="29.90" y2="184.50" stroke="#999" stroke-width="0.4" />
<text x="26.80" y="186.48" font-size="4.62" text-anchor="end" fill="#111" stroke="#111" stroke-width="0.06" textLength="6.12" lengthAdjust="spacingAndGlyphs" >0.4</text>
<line x1="28.60" y1="209.10" x2="29.90" y2="209.10" stroke="#999" stroke-width="0.4" />
<text x="26.80" y="211.08" font-size="4.62" text-anchor="end" fill="#111" stroke="#111" stroke-width="0.06" textLength="6.12" lengthAdjust="spacingAndGlyphs" >0.0</text>
<line x1="28.60" y1="233.70" x2="29.90" y2="233.70" stroke="#999" stroke-width="0.4" />
<text x="26.80" y="235.68" font-size="4.62" text-anchor="end" fill="#111" stroke="#111" stroke-width="0.06" textLength="7.58" lengthAdjust="spacingAndGlyphs" >-0.4</text>
<text x="13.20" y="209.32" font-size="5.17" text-anchor="middle" fill="#111" stroke="#111" stroke-width="0.06" transform="rotate(-90 13.20 207.30)" textLength="43.02" lengthAdjust="spacingAndGlyphs" >Gene signature score</text>
<line x1="42.30" y1="183.50" x2="42.30" y2="189.00" stroke="#aaa" stroke-width="0.4" />
<line x1="42.30" y1="212.10" x2="42.30" y2="243.00" stroke="#aaa" stroke-width="0.4" />
<rect x="35.20" y="189.00" width="14.10" height="23.10" fill="#b8c2f6" stroke="#8a90c8" stroke-width="0.4" />
<line x1="35.20" y1="197.80" x2="49.30" y2="197.80" stroke="#555" stroke-width="0.8" />
<circle cx="42.50" cy="183.50" r="0.65" fill="#111" stroke="none" stroke-width="0.4" />
<circle cx="42.80" cy="186.00" r="0.65" fill="#111" stroke="none" stroke-width="0.4" />
<circle cx="44.00" cy="190.00" r="0.65" fill="#111" stroke="none" stroke-width="0.4" />
<circle cx="44.50" cy="191.50" r="0.65" fill="#111" stroke="none" stroke-width="0.4" />
<circle cx="42.00" cy="205.00" r="0.65" fill="#111" stroke="none" stroke-width="0.4" />
<circle cx="41.50" cy="206.50" r="0.65" fill="#111" stroke="none" stroke-width="0.4" />
<circle cx="42.20" cy="229.40" r="0.65" fill="#111" stroke="none" stroke-width="0.4" />
<circle cx="42.20" cy="242.50" r="0.65" fill="#111" stroke="none" stroke-width="0.4" />
<line x1="60.30" y1="229.00" x2="60.30" y2="238.70" stroke="#aaa" stroke-width="0.4" />
<rect x="53.40" y="214.80" width="13.90" height="14.30" fill="#f6c4c0" stroke="#c89894" stroke-width="0.4" />
<line x1="53.40" y1="229.00" x2="67.30" y2="229.00" stroke="#555" stroke-width="0.8" />
<circle cx="57.50" cy="214.80" r="0.65" fill="#111" stroke="none" stroke-width="0.4" />
<circle cx="61.00" cy="214.80" r="0.65" fill="#111" stroke="none" stroke-width="0.4" />
<circle cx="60.50" cy="229.00" r="0.65" fill="#111" stroke="none" stroke-width="0.4" />
<circle cx="60.30" cy="238.70" r="0.65" fill="#111" stroke="none" stroke-width="0.4" />
<polyline points="42.4,171.5 42.4,169.7 60.5,169.7 60.5,171.5" fill="none" stroke="#888" stroke-width="0.55"/>
<circle cx="51.90" cy="165.90" r="1.15" fill="#222" stroke="none" stroke-width="0.4" />
<line x1="102.70" y1="166.50" x2="102.70" y2="250.80" stroke="#bbb" stroke-width="0.55" />
<line x1="101.40" y1="184.48" x2="102.70" y2="184.48" stroke="#999" stroke-width="0.4" />
<text x="99.60" y="186.46" font-size="4.62" text-anchor="end" fill="#111" stroke="#111" stroke-width="0.06" textLength="6.12" lengthAdjust="spacingAndGlyphs" >0.4</text>
<line x1="101.40" y1="209.40" x2="102.70" y2="209.40" stroke="#999" stroke-width="0.4" />
<text x="99.60" y="211.38" font-size="4.62" text-anchor="end" fill="#111" stroke="#111" stroke-width="0.06" textLength="6.12" lengthAdjust="spacingAndGlyphs" >0.0</text>
<line x1="101.40" y1="234.32" x2="102.70" y2="234.32" stroke="#999" stroke-width="0.4" />
<text x="99.60" y="236.30" font-size="4.62" text-anchor="end" fill="#111" stroke="#111" stroke-width="0.06" textLength="7.58" lengthAdjust="spacingAndGlyphs" >-0.4</text>
<text x="86.70" y="209.32" font-size="5.17" text-anchor="middle" fill="#111" stroke="#111" stroke-width="0.06" transform="rotate(-90 86.70 207.30)" textLength="43.02" lengthAdjust="spacingAndGlyphs" >Gene signature score</text>
<line x1="121.10" y1="175.00" x2="121.10" y2="183.90" stroke="#aaa" stroke-width="0.4" />
<line x1="121.10" y1="201.60" x2="121.10" y2="218.50" stroke="#aaa" stroke-width="0.4" />
<rect x="114.30" y="183.90" width="13.60" height="17.70" fill="#b8c2f6" stroke="#8a90c8" stroke-width="0.4" />
<line x1="114.30" y1="191.50" x2="127.90" y2="191.50" stroke="#333" stroke-width="0.8" />
<circle cx="122.00" cy="175.00" r="0.65" fill="#111" stroke="none" stroke-width="0.4" />
<circle cx="121.50" cy="177.80" r="0.65" fill="#111" stroke="none" stroke-width="0.4" />
<circle cx="120.00" cy="185.00" r="0.65" fill="#111" stroke="none" stroke-width="0.4" />
<circle cx="120.50" cy="191.50" r="0.65" fill="#111" stroke="none" stroke-width="0.4" />
<circle cx="120.00" cy="195.50" r="0.65" fill="#111" stroke="none" stroke-width="0.4" />
<circle cx="121.00" cy="198.50" r="0.65" fill="#111" stroke="none" stroke-width="0.4" />
<circle cx="119.00" cy="218.50" r="0.65" fill="#111" stroke="none" stroke-width="0.4" />
<circle cx="121.30" cy="246.70" r="0.65" fill="#111" stroke="none" stroke-width="0.4" />
<line x1="132.00" y1="223.30" x2="145.80" y2="223.30" stroke="#333" stroke-width="0.65" />
<circle cx="138.20" cy="218.50" r="0.65" fill="#111" stroke="none" stroke-width="0.4" />
<circle cx="139.00" cy="223.00" r="0.65" fill="#111" stroke="none" stroke-width="0.4" />
<circle cx="139.00" cy="243.60" r="0.65" fill="#111" stroke="none" stroke-width="0.4" />
<polyline points="120,171.4 120,169.6 139.1,169.6 139.1,171.4" fill="none" stroke="#888" stroke-width="0.55"/>
<circle cx="129.80" cy="165.60" r="1.15" fill="#222" stroke="none" stroke-width="0.4" />
<text x="168.20" y="154.66" font-size="5.29" text-anchor="start" fill="#111" stroke="#111" stroke-width="0.06" textLength="21.00" lengthAdjust="spacingAndGlyphs" >Response</text>
<rect x="169.30" y="158.50" width="7.80" height="7.40" fill="#f6c4c0" stroke="#d0a8a4" stroke-width="0.4" />
<text x="179.50" y="164.28" font-size="5.06" text-anchor="start" fill="#111" stroke="#111" stroke-width="0.06" textLength="3.18" lengthAdjust="spacingAndGlyphs" >R</text>
<rect x="169.30" y="168.80" width="7.80" height="7.40" fill="#b8c2f6" stroke="#9aa0d0" stroke-width="0.4" />
<text x="179.50" y="174.68" font-size="5.06" text-anchor="start" fill="#111" stroke="#111" stroke-width="0.06" textLength="8.80" lengthAdjust="spacingAndGlyphs" >NoR</text>
<text x="207.80" y="154.84" font-size="8.74" text-anchor="start" fill="#000" stroke="#000" stroke-width="0.06" font-weight="bold" textLength="5.07" lengthAdjust="spacingAndGlyphs" >E</text>
<text x="263.00" y="154.82" font-size="5.17" text-anchor="start" fill="#111" stroke="#111" stroke-width="0.06" textLength="72.00" lengthAdjust="spacingAndGlyphs" >TCGA Pancan: immune landscapes</text>
<line x1="264.00" y1="159.40" x2="264.00" y2="242.00" stroke="#c4c4c4" stroke-width="0.6" />
<line x1="264.00" y1="242.00" x2="300.10" y2="242.00" stroke="#aaa" stroke-width="0.5" />
<line x1="272.00" y1="242.00" x2="272.00" y2="243.30" stroke="#888" stroke-width="0.35" />
<line x1="290.00" y1="242.00" x2="290.00" y2="243.30" stroke="#888" stroke-width="0.35" />
<text x="260.30" y="170.98" font-size="5.06" text-anchor="end" fill="#111" stroke="#111" stroke-width="0.06" textLength="4.89" lengthAdjust="spacingAndGlyphs" >All</text>
<line x1="261.20" y1="169.00" x2="264.00" y2="169.00" stroke="#888" stroke-width="0.4" />
<text x="260.30" y="182.48" font-size="5.06" text-anchor="end" fill="#111" stroke="#111" stroke-width="0.06" textLength="36.12" lengthAdjust="spacingAndGlyphs" >C1 Wound healing</text>
<line x1="261.20" y1="180.50" x2="264.00" y2="180.50" stroke="#888" stroke-width="0.4" />
<text x="260.30" y="193.98" font-size="5.06" text-anchor="end" fill="#111" stroke="#111" stroke-width="0.06" textLength="35.46" lengthAdjust="spacingAndGlyphs" >C2 IFNγ dominant</text>
<line x1="261.20" y1="192.00" x2="264.00" y2="192.00" stroke="#888" stroke-width="0.4" />
<text x="260.30" y="205.48" font-size="5.06" text-anchor="end" fill="#111" stroke="#111" stroke-width="0.06" textLength="32.28" lengthAdjust="spacingAndGlyphs" >C3 Inflammatory</text>
<line x1="261.20" y1="203.50" x2="264.00" y2="203.50" stroke="#888" stroke-width="0.4" />
<text x="260.30" y="216.98" font-size="5.06" text-anchor="end" fill="#111" stroke="#111" stroke-width="0.06" textLength="48.51" lengthAdjust="spacingAndGlyphs" >C4 Lymphocyte depleted</text>
<line x1="261.20" y1="215.00" x2="264.00" y2="215.00" stroke="#888" stroke-width="0.4" />
<text x="260.30" y="228.48" font-size="5.06" text-anchor="end" fill="#111" stroke="#111" stroke-width="0.06" textLength="49.16" lengthAdjust="spacingAndGlyphs" >C5 Immunologically quiet</text>
<line x1="261.20" y1="226.50" x2="264.00" y2="226.50" stroke="#888" stroke-width="0.4" />
<text x="260.30" y="239.98" font-size="5.06" text-anchor="end" fill="#111" stroke="#111" stroke-width="0.06" textLength="37.42" lengthAdjust="spacingAndGlyphs" >C6 TGFβ dominant</text>
<line x1="261.20" y1="238.00" x2="264.00" y2="238.00" stroke="#888" stroke-width="0.4" />
<circle cx="272.00" cy="169.00" r="3.80" fill="#a9d3ea" stroke="none" stroke-width="0.4" />
<circle cx="290.30" cy="169.00" r="3.90" fill="#8b85ec" stroke="none" stroke-width="0.4" />
<circle cx="272.00" cy="180.50" r="2.10" fill="#9da6ea" stroke="none" stroke-width="0.4" />
<circle cx="290.10" cy="180.50" r="2.10" fill="#a9bce8" stroke="none" stroke-width="0.4" />
<circle cx="272.00" cy="192.00" r="2.20" fill="#a9d3ea" stroke="none" stroke-width="0.4" />
<circle cx="290.10" cy="192.00" r="2.20" fill="#cacaca" stroke="none" stroke-width="0.4" />
<circle cx="272.00" cy="203.80" r="2.50" fill="#cbcbcb" stroke="none" stroke-width="0.4" />
<circle cx="290.10" cy="203.80" r="2.50" fill="#8b8bea" stroke="none" stroke-width="0.4" />
<circle cx="272.00" cy="214.50" r="2.00" fill="#cccccc" stroke="none" stroke-width="0.4" />
<circle cx="290.10" cy="214.50" r="2.00" fill="#7474e6" stroke="none" stroke-width="0.4" />
<circle cx="272.00" cy="226.80" r="1.20" fill="#bcbcbc" stroke="none" stroke-width="0.4" />
<circle cx="290.10" cy="226.80" r="1.20" fill="#bcbcbc" stroke="none" stroke-width="0.4" />
<circle cx="272.00" cy="238.00" r="0.80" fill="#bcbcbc" stroke="none" stroke-width="0.4" />
<circle cx="290.10" cy="238.00" r="0.80" fill="#8ccdec" stroke="none" stroke-width="0.4" />
<text x="272.50" y="250.94" font-size="5.23" text-anchor="middle" fill="#111" stroke="#111" stroke-width="0.06" font-style="italic" textLength="14.16" lengthAdjust="spacingAndGlyphs" >CD274</text>
<text x="290.50" y="250.92" font-size="5.17" text-anchor="middle" fill="#111" stroke="#111" stroke-width="0.06" font-style="italic" textLength="13.92" lengthAdjust="spacingAndGlyphs" >STAB1</text>
<text x="316.00" y="170.41" font-size="4.83" text-anchor="middle" fill="#111" stroke="#111" stroke-width="0.06" textLength="32.30" lengthAdjust="spacingAndGlyphs" >-log<tspan font-size="2.1" dy="0.8">10</tspan><tspan dy="-0.8">Padj x sign</tspan></text>
<text x="316.50" y="176.96" font-size="5.29" text-anchor="middle" fill="#111" stroke="#111" stroke-width="0.06" textLength="21.00" lengthAdjust="spacingAndGlyphs" >Better OS</text>
<text x="316.10" y="220.16" font-size="5.29" text-anchor="middle" fill="#111" stroke="#111" stroke-width="0.06" textLength="21.80" lengthAdjust="spacingAndGlyphs" >Poorer OS</text>
<defs><linearGradient id="gE" x1="0" x2="0" y1="0" y2="1"><stop offset="0" stop-color="#e82424"/><stop offset="0.1" stop-color="#f0a0a0"/><stop offset="0.18" stop-color="#e2e2e2"/><stop offset="0.32" stop-color="#b4d2ee"/><stop offset="0.6" stop-color="#7f84ee"/><stop offset="1" stop-color="#1010ee"/></linearGradient></defs>
<rect x="312.80" y="178.20" width="6.40" height="36.60" fill="url(#gE)" stroke="#bbb" stroke-width="0.25" />
<line x1="310.40" y1="179.00" x2="310.40" y2="214.00" stroke="#888" stroke-width="0.3" />
<line x1="309.90" y1="183.50" x2="310.90" y2="183.50" stroke="#555" stroke-width="0.35" />
<line x1="309.90" y1="201.00" x2="310.90" y2="201.00" stroke="#555" stroke-width="0.35" />
<polygon points="310.4,177.8 309.7,179.6 311.1,179.6" fill="#555"/>
<polygon points="310.4,215 309.7,213.2 311.1,213.2" fill="#555"/>
<text x="320.80" y="182.00" font-size="4.29" text-anchor="start" fill="#111" stroke="#111" stroke-width="0.06" textLength="2.17" lengthAdjust="spacingAndGlyphs" >5</text>
<text x="320.80" y="187.40" font-size="4.29" text-anchor="start" fill="#111" stroke="#111" stroke-width="0.06" textLength="2.17" lengthAdjust="spacingAndGlyphs" >0</text>
<text x="320.80" y="193.60" font-size="4.29" text-anchor="start" fill="#111" stroke="#111" stroke-width="0.06" textLength="3.47" lengthAdjust="spacingAndGlyphs" >-5</text>
<text x="320.80" y="198.50" font-size="4.29" text-anchor="start" fill="#111" stroke="#111" stroke-width="0.06" textLength="5.64" lengthAdjust="spacingAndGlyphs" >-10</text>
<text x="320.80" y="208.20" font-size="4.29" text-anchor="start" fill="#111" stroke="#111" stroke-width="0.06" textLength="5.64" lengthAdjust="spacingAndGlyphs" >-20</text>
<text x="338.60" y="169.94" font-size="5.23" text-anchor="start" fill="#111" stroke="#111" stroke-width="0.06" textLength="20.49" lengthAdjust="spacingAndGlyphs" >N patients</text>
<circle cx="342.70" cy="174.10" r="1.30" fill="#111" stroke="none" stroke-width="0.4" />
<text x="349.10" y="176.09" font-size="4.03" text-anchor="start" fill="#111" stroke="#111" stroke-width="0.07" textLength="5.51" lengthAdjust="spacingAndGlyphs" >300</text>
<circle cx="342.70" cy="179.30" r="1.75" fill="#111" stroke="none" stroke-width="0.4" />
<text x="349.10" y="181.29" font-size="4.03" text-anchor="start" fill="#111" stroke="#111" stroke-width="0.07" textLength="7.34" lengthAdjust="spacingAndGlyphs" >1000</text>
<circle cx="342.70" cy="185.30" r="2.45" fill="#111" stroke="none" stroke-width="0.4" />
<text x="349.10" y="187.29" font-size="4.03" text-anchor="start" fill="#111" stroke="#111" stroke-width="0.07" textLength="7.34" lengthAdjust="spacingAndGlyphs" >3000</text>
<circle cx="342.70" cy="193.50" r="4.00" fill="#111" stroke="none" stroke-width="0.4" />
<text x="349.10" y="195.49" font-size="4.03" text-anchor="start" fill="#111" stroke="#111" stroke-width="0.07" textLength="7.34" lengthAdjust="spacingAndGlyphs" >9000</text>
<text x="1.20" y="263.94" font-size="8.74" text-anchor="start" fill="#000" stroke="#000" stroke-width="0.06" font-weight="bold" textLength="4.64" lengthAdjust="spacingAndGlyphs" >F</text>
<text x="68.40" y="263.16" font-size="5.29" text-anchor="middle" fill="#111" stroke="#111" stroke-width="0.06" textLength="33.74" lengthAdjust="spacingAndGlyphs" >C3 Inflammatory</text>
<line x1="25.00" y1="265.00" x2="25.00" y2="326.70" stroke="#c0c0c0" stroke-width="0.5" />
<text x="22.90" y="269.33" font-size="4.07" text-anchor="end" fill="#222" stroke="#222" stroke-width="0.07" textLength="7.20" lengthAdjust="spacingAndGlyphs" >1.00</text>
<text x="22.90" y="283.53" font-size="4.07" text-anchor="end" fill="#222" stroke="#222" stroke-width="0.07" textLength="7.20" lengthAdjust="spacingAndGlyphs" >0.75</text>
<text x="22.90" y="297.73" font-size="4.07" text-anchor="end" fill="#222" stroke="#222" stroke-width="0.07" textLength="7.20" lengthAdjust="spacingAndGlyphs" >0.50</text>
<text x="22.90" y="311.93" font-size="4.07" text-anchor="end" fill="#222" stroke="#222" stroke-width="0.07" textLength="7.20" lengthAdjust="spacingAndGlyphs" >0.25</text>
<text x="22.90" y="326.13" font-size="4.07" text-anchor="end" fill="#222" stroke="#222" stroke-width="0.07" textLength="7.20" lengthAdjust="spacingAndGlyphs" >0.00</text>
<text x="11.60" y="294.00" font-size="4.45" text-anchor="middle" fill="#333" stroke="#333" stroke-width="0.06" transform="rotate(-90 11.60 292.00)" textLength="37.35" lengthAdjust="spacingAndGlyphs" >Survival probability</text>
<line x1="25.00" y1="326.60" x2="103.70" y2="326.60" stroke="#c8c8c8" stroke-width="0.45" />
<line x1="28.30" y1="326.70" x2="28.30" y2="327.50" stroke="#999" stroke-width="0.3" />
<text x="28.30" y="331.24" font-size="4.60" text-anchor="middle" fill="#111" stroke="#111" stroke-width="0.06" textLength="2.22" lengthAdjust="spacingAndGlyphs" >0</text>
<line x1="49.40" y1="326.70" x2="49.40" y2="327.50" stroke="#999" stroke-width="0.3" />
<text x="49.40" y="331.24" font-size="4.60" text-anchor="middle" fill="#111" stroke="#111" stroke-width="0.06" textLength="8.90" lengthAdjust="spacingAndGlyphs" >2500</text>
<line x1="70.60" y1="326.70" x2="70.60" y2="327.50" stroke="#999" stroke-width="0.3" />
<text x="70.60" y="331.24" font-size="4.60" text-anchor="middle" fill="#111" stroke="#111" stroke-width="0.06" textLength="8.90" lengthAdjust="spacingAndGlyphs" >5000</text>
<line x1="91.70" y1="326.70" x2="91.70" y2="327.50" stroke="#999" stroke-width="0.3" />
<text x="91.70" y="331.24" font-size="4.60" text-anchor="middle" fill="#111" stroke="#111" stroke-width="0.06" textLength="8.90" lengthAdjust="spacingAndGlyphs" >7500</text>
<text x="62.35" y="324.64" font-size="4.60" text-anchor="middle" fill="#111" stroke="#111" stroke-width="0.06" textLength="20.96" lengthAdjust="spacingAndGlyphs" >Time (days)</text>
<text x="23.20" y="337.14" font-size="4.60" text-anchor="end" fill="#111" stroke="#111" stroke-width="0.06" textLength="11.11" lengthAdjust="spacingAndGlyphs" >At risk</text>
<text x="28.80" y="336.23" font-size="2.99" text-anchor="middle" fill="#222" stroke="#222" stroke-width="0.07" textLength="6.77" lengthAdjust="spacingAndGlyphs" >1195</text>
<text x="49.90" y="336.23" font-size="2.99" text-anchor="middle" fill="#222" stroke="#222" stroke-width="0.07" textLength="5.02" lengthAdjust="spacingAndGlyphs" >117</text>
<text x="71.10" y="336.23" font-size="2.99" text-anchor="middle" fill="#222" stroke="#222" stroke-width="0.07" textLength="1.75" lengthAdjust="spacingAndGlyphs" >9</text>
<text x="92.20" y="336.23" font-size="2.99" text-anchor="middle" fill="#222" stroke="#222" stroke-width="0.07" textLength="1.75" lengthAdjust="spacingAndGlyphs" >1</text>
<text x="28.80" y="339.73" font-size="2.99" text-anchor="middle" fill="#222" stroke="#222" stroke-width="0.07" textLength="6.77" lengthAdjust="spacingAndGlyphs" >1199</text>
<text x="49.90" y="339.73" font-size="2.99" text-anchor="middle" fill="#222" stroke="#222" stroke-width="0.07" textLength="5.26" lengthAdjust="spacingAndGlyphs" >121</text>
<text x="71.10" y="339.73" font-size="2.99" text-anchor="middle" fill="#222" stroke="#222" stroke-width="0.07" textLength="1.75" lengthAdjust="spacingAndGlyphs" >1</text>
<text x="92.20" y="339.73" font-size="2.99" text-anchor="middle" fill="#222" stroke="#222" stroke-width="0.07" textLength="1.75" lengthAdjust="spacingAndGlyphs" >1</text>
<text x="28.80" y="343.23" font-size="2.99" text-anchor="middle" fill="#222" stroke="#222" stroke-width="0.07" textLength="6.77" lengthAdjust="spacingAndGlyphs" >1193</text>
<text x="49.90" y="343.23" font-size="2.99" text-anchor="middle" fill="#222" stroke="#222" stroke-width="0.07" textLength="3.50" lengthAdjust="spacingAndGlyphs" >92</text>
<text x="71.10" y="343.23" font-size="2.99" text-anchor="middle" fill="#222" stroke="#222" stroke-width="0.07" textLength="1.75" lengthAdjust="spacingAndGlyphs" >5</text>
<text x="92.20" y="343.23" font-size="2.99" text-anchor="middle" fill="#222" stroke="#222" stroke-width="0.07" textLength="1.75" lengthAdjust="spacingAndGlyphs" >0</text>
<text x="28.80" y="346.73" font-size="2.99" text-anchor="middle" fill="#222" stroke="#222" stroke-width="0.07" textLength="7.01" lengthAdjust="spacingAndGlyphs" >1201</text>
<text x="49.90" y="346.73" font-size="2.99" text-anchor="middle" fill="#222" stroke="#222" stroke-width="0.07" textLength="5.26" lengthAdjust="spacingAndGlyphs" >146</text>
<text x="71.10" y="346.73" font-size="2.99" text-anchor="middle" fill="#222" stroke="#222" stroke-width="0.07" textLength="1.75" lengthAdjust="spacingAndGlyphs" >5</text>
<text x="92.20" y="346.73" font-size="2.99" text-anchor="middle" fill="#222" stroke="#222" stroke-width="0.07" textLength="1.75" lengthAdjust="spacingAndGlyphs" >0</text>
<line x1="97.50" y1="334.90" x2="101.90" y2="334.90" stroke="#3a3ae8" stroke-width="0.6" />
<line x1="97.50" y1="338.40" x2="101.90" y2="338.40" stroke="#e03a3a" stroke-width="0.6" />
<line x1="97.50" y1="341.90" x2="101.90" y2="341.90" stroke="#b8d4ea" stroke-width="0.6" />
<line x1="97.50" y1="345.40" x2="101.90" y2="345.40" stroke="#f2b8b8" stroke-width="0.6" />
<polyline points="29.20,267.30 32.00,271.50 36.00,276.50 42.00,282.50 50.00,287.50 55.00,290.50 58.00,292.50 61.00,295.50 62.00,300.50 63.00,304.40" fill="none" stroke="#b8d4ea" stroke-width="0.7" />
<polyline points="63.00,304.40 108.50,304.40" fill="none" stroke="#b8d4ea" stroke-width="0.48999999999999994" stroke-dasharray="1.4 0.8" stroke-opacity="0.6"/>
<polyline points="29.20,267.30 34.00,271.50 40.00,276.00 45.00,279.50 50.00,282.00 58.00,286.00 62.00,288.00 63.50,289.20" fill="none" stroke="#f2b8b8" stroke-width="0.7" />
<polyline points="63.50,289.20 89.00,289.20" fill="none" stroke="#f2b8b8" stroke-width="0.48999999999999994" stroke-dasharray="1.4 0.8" stroke-opacity="0.6"/>
<polyline points="29.20,267.30 33.00,269.80 37.00,272.40 41.00,275.00 45.80,278.00 52.80,281.40 57.60,283.50 61.10,284.90 61.80,287.70 63.90,291.20" fill="none" stroke="#3a3ae8" stroke-width="1.0" />
<polyline points="63.90,291.40 95.50,291.40" fill="none" stroke="#3a3ae8" stroke-width="0.7" stroke-dasharray="1.4 0.8" stroke-opacity="0.6"/>
<polyline points="29.20,267.30 32.50,271.00 36.10,275.20 39.00,279.50 42.40,284.20 47.90,289.10 54.20,293.25 58.30,294.60 60.40,298.10" fill="none" stroke="#e03a3a" stroke-width="1.0" />
<polyline points="60.40,298.10 108.50,298.10" fill="none" stroke="#e03a3a" stroke-width="0.7" stroke-dasharray="1.4 0.8" stroke-opacity="0.6"/>
<line x1="90.10" y1="267.20" x2="93.50" y2="267.20" stroke="#3a3ae8" stroke-width="0.7" />
<text x="95.00" y="268.70" font-size="4.4" textLength="10.6" lengthAdjust="spacingAndGlyphs" fill="#555" stroke="#555" stroke-width="0.035" font-style="italic">STAB1</text><text x="105.70" y="267.30" font-size="2.8" fill="#555" stroke="#555" stroke-width="0.03" font-style="italic">low</text>
<line x1="90.10" y1="272.00" x2="93.50" y2="272.00" stroke="#e03a3a" stroke-width="0.7" />
<text x="95.00" y="273.50" font-size="4.4" textLength="10.6" lengthAdjust="spacingAndGlyphs" fill="#555" stroke="#555" stroke-width="0.035" font-style="italic">STAB1</text><text x="105.70" y="272.10" font-size="2.8" fill="#555" stroke="#555" stroke-width="0.03" font-style="italic">high</text>
<line x1="90.10" y1="276.80" x2="93.50" y2="276.80" stroke="#b8d4ea" stroke-width="0.7" />
<text x="95.00" y="278.30" font-size="4.4" textLength="10.6" lengthAdjust="spacingAndGlyphs" fill="#555" stroke="#555" stroke-width="0.035" font-style="italic">CD274</text><text x="105.70" y="276.90" font-size="2.8" fill="#555" stroke="#555" stroke-width="0.03" font-style="italic">low</text>
<line x1="90.10" y1="281.60" x2="93.50" y2="281.60" stroke="#f2b8b8" stroke-width="0.7" />
<text x="95.00" y="283.10" font-size="4.4" textLength="10.6" lengthAdjust="spacingAndGlyphs" fill="#555" stroke="#555" stroke-width="0.035" font-style="italic">CD274</text><text x="105.70" y="281.70" font-size="2.8" fill="#555" stroke="#555" stroke-width="0.03" font-style="italic">high</text>
<text x="183.00" y="263.16" font-size="5.29" text-anchor="middle" fill="#111" stroke="#111" stroke-width="0.06" textLength="50.72" lengthAdjust="spacingAndGlyphs" >C4 Lymphocyte depleted</text>
<line x1="140.70" y1="265.00" x2="140.70" y2="326.70" stroke="#c0c0c0" stroke-width="0.5" />
<text x="138.60" y="269.33" font-size="4.07" text-anchor="end" fill="#222" stroke="#222" stroke-width="0.07" textLength="7.20" lengthAdjust="spacingAndGlyphs" >1.00</text>
<text x="138.60" y="283.53" font-size="4.07" text-anchor="end" fill="#222" stroke="#222" stroke-width="0.07" textLength="7.20" lengthAdjust="spacingAndGlyphs" >0.75</text>
<text x="138.60" y="297.73" font-size="4.07" text-anchor="end" fill="#222" stroke="#222" stroke-width="0.07" textLength="7.20" lengthAdjust="spacingAndGlyphs" >0.50</text>
<text x="138.60" y="311.93" font-size="4.07" text-anchor="end" fill="#222" stroke="#222" stroke-width="0.07" textLength="7.20" lengthAdjust="spacingAndGlyphs" >0.25</text>
<text x="138.60" y="326.13" font-size="4.07" text-anchor="end" fill="#222" stroke="#222" stroke-width="0.07" textLength="7.20" lengthAdjust="spacingAndGlyphs" >0.00</text>
<text x="127.30" y="294.00" font-size="4.45" text-anchor="middle" fill="#333" stroke="#333" stroke-width="0.06" transform="rotate(-90 127.30 292.00)" textLength="37.35" lengthAdjust="spacingAndGlyphs" >Survival probability</text>
<line x1="140.70" y1="326.60" x2="231.30" y2="326.60" stroke="#c8c8c8" stroke-width="0.45" />
<line x1="144.00" y1="326.70" x2="144.00" y2="327.50" stroke="#999" stroke-width="0.3" />
<text x="144.00" y="331.24" font-size="4.60" text-anchor="middle" fill="#111" stroke="#111" stroke-width="0.06" textLength="2.22" lengthAdjust="spacingAndGlyphs" >0</text>
<line x1="163.30" y1="326.70" x2="163.30" y2="327.50" stroke="#999" stroke-width="0.3" />
<text x="163.30" y="331.24" font-size="4.60" text-anchor="middle" fill="#111" stroke="#111" stroke-width="0.06" textLength="8.90" lengthAdjust="spacingAndGlyphs" >2000</text>
<line x1="181.70" y1="326.70" x2="181.70" y2="327.50" stroke="#999" stroke-width="0.3" />
<text x="181.70" y="331.24" font-size="4.60" text-anchor="middle" fill="#111" stroke="#111" stroke-width="0.06" textLength="8.90" lengthAdjust="spacingAndGlyphs" >4000</text>
<line x1="200.70" y1="326.70" x2="200.70" y2="327.50" stroke="#999" stroke-width="0.3" />
<text x="200.70" y="331.24" font-size="4.60" text-anchor="middle" fill="#111" stroke="#111" stroke-width="0.06" textLength="8.90" lengthAdjust="spacingAndGlyphs" >6000</text>
<line x1="219.30" y1="326.70" x2="219.30" y2="327.50" stroke="#999" stroke-width="0.3" />
<text x="219.30" y="331.24" font-size="4.60" text-anchor="middle" fill="#111" stroke="#111" stroke-width="0.06" textLength="8.90" lengthAdjust="spacingAndGlyphs" >8000</text>
<text x="184.00" y="324.64" font-size="4.60" text-anchor="middle" fill="#111" stroke="#111" stroke-width="0.06" textLength="20.96" lengthAdjust="spacingAndGlyphs" >Time (days)</text>
<text x="138.90" y="337.14" font-size="4.60" text-anchor="end" fill="#111" stroke="#111" stroke-width="0.06" textLength="11.11" lengthAdjust="spacingAndGlyphs" >At risk</text>
<text x="144.50" y="336.23" font-size="2.99" text-anchor="middle" fill="#222" stroke="#222" stroke-width="0.07" textLength="5.26" lengthAdjust="spacingAndGlyphs" >576</text>
<text x="163.80" y="336.23" font-size="2.99" text-anchor="middle" fill="#222" stroke="#222" stroke-width="0.07" textLength="3.50" lengthAdjust="spacingAndGlyphs" >60</text>
<text x="182.20" y="336.23" font-size="2.99" text-anchor="middle" fill="#222" stroke="#222" stroke-width="0.07" textLength="1.75" lengthAdjust="spacingAndGlyphs" >5</text>
<text x="201.20" y="336.23" font-size="2.99" text-anchor="middle" fill="#222" stroke="#222" stroke-width="0.07" textLength="1.75" lengthAdjust="spacingAndGlyphs" >1</text>
<text x="219.80" y="336.23" font-size="2.99" text-anchor="middle" fill="#222" stroke="#222" stroke-width="0.07" textLength="1.75" lengthAdjust="spacingAndGlyphs" >1</text>
<text x="144.50" y="339.73" font-size="2.99" text-anchor="middle" fill="#222" stroke="#222" stroke-width="0.07" textLength="5.26" lengthAdjust="spacingAndGlyphs" >577</text>
<text x="163.80" y="339.73" font-size="2.99" text-anchor="middle" fill="#222" stroke="#222" stroke-width="0.07" textLength="3.50" lengthAdjust="spacingAndGlyphs" >46</text>
<text x="182.20" y="339.73" font-size="2.99" text-anchor="middle" fill="#222" stroke="#222" stroke-width="0.07" textLength="1.75" lengthAdjust="spacingAndGlyphs" >4</text>
<text x="201.20" y="339.73" font-size="2.99" text-anchor="middle" fill="#222" stroke="#222" stroke-width="0.07" textLength="1.75" lengthAdjust="spacingAndGlyphs" >1</text>
<text x="219.80" y="339.73" font-size="2.99" text-anchor="middle" fill="#222" stroke="#222" stroke-width="0.07" textLength="1.75" lengthAdjust="spacingAndGlyphs" >0</text>
<text x="144.50" y="343.23" font-size="2.99" text-anchor="middle" fill="#222" stroke="#222" stroke-width="0.07" textLength="5.26" lengthAdjust="spacingAndGlyphs" >577</text>
<text x="163.80" y="343.23" font-size="2.99" text-anchor="middle" fill="#222" stroke="#222" stroke-width="0.07" textLength="3.50" lengthAdjust="spacingAndGlyphs" >48</text>
<text x="182.20" y="343.23" font-size="2.99" text-anchor="middle" fill="#222" stroke="#222" stroke-width="0.07" textLength="1.75" lengthAdjust="spacingAndGlyphs" >5</text>
<text x="201.20" y="343.23" font-size="2.99" text-anchor="middle" fill="#222" stroke="#222" stroke-width="0.07" textLength="1.75" lengthAdjust="spacingAndGlyphs" >1</text>
<text x="219.80" y="343.23" font-size="2.99" text-anchor="middle" fill="#222" stroke="#222" stroke-width="0.07" textLength="1.75" lengthAdjust="spacingAndGlyphs" >0</text>
<text x="144.50" y="346.73" font-size="2.99" text-anchor="middle" fill="#222" stroke="#222" stroke-width="0.07" textLength="5.26" lengthAdjust="spacingAndGlyphs" >576</text>
<text x="163.80" y="346.73" font-size="2.99" text-anchor="middle" fill="#222" stroke="#222" stroke-width="0.07" textLength="3.50" lengthAdjust="spacingAndGlyphs" >58</text>
<text x="182.20" y="346.73" font-size="2.99" text-anchor="middle" fill="#222" stroke="#222" stroke-width="0.07" textLength="1.75" lengthAdjust="spacingAndGlyphs" >4</text>
<text x="201.20" y="346.73" font-size="2.99" text-anchor="middle" fill="#222" stroke="#222" stroke-width="0.07" textLength="1.75" lengthAdjust="spacingAndGlyphs" >1</text>
<text x="219.80" y="346.73" font-size="2.99" text-anchor="middle" fill="#222" stroke="#222" stroke-width="0.07" textLength="1.75" lengthAdjust="spacingAndGlyphs" >1</text>
<line x1="225.10" y1="334.90" x2="229.50" y2="334.90" stroke="#3a3ae8" stroke-width="0.6" />
<line x1="225.10" y1="338.40" x2="229.50" y2="338.40" stroke="#e03a3a" stroke-width="0.6" />
<line x1="225.10" y1="341.90" x2="229.50" y2="341.90" stroke="#b8d4ea" stroke-width="0.6" />
<line x1="225.10" y1="345.40" x2="229.50" y2="345.40" stroke="#f2b8b8" stroke-width="0.6" />
<polyline points="144.30,267.30 147.00,276.00 150.00,283.00 154.00,288.00 158.00,292.00 163.00,295.50 168.00,298.00 172.00,300.00 177.00,303.00 183.00,305.00 183.00,312.30" fill="none" stroke="#b8d4ea" stroke-width="0.7" />
<polyline points="183.00,312.30 223.30,312.30" fill="none" stroke="#b8d4ea" stroke-width="0.48999999999999994" stroke-dasharray="1.4 0.8" stroke-opacity="0.6"/>
<polyline points="144.30,267.30 146.50,275.00 149.00,282.00 153.00,290.00 158.00,296.00 163.00,300.50 168.00,303.50 172.00,306.70" fill="none" stroke="#f2b8b8" stroke-width="0.7" />
<polyline points="172.00,306.70 204.60,306.70" fill="none" stroke="#f2b8b8" stroke-width="0.48999999999999994" stroke-dasharray="1.4 0.8" stroke-opacity="0.6"/>
<polyline points="144.30,267.30 146.00,270.00 148.00,273.70 149.70,278.70 153.00,282.80 158.00,287.80 163.80,290.30 165.50,289.50 167.20,291.20 169.70,295.00 172.00,296.50 175.50,298.70 177.20,301.50" fill="none" stroke="#3a3ae8" stroke-width="1.1" />
<polyline points="177.20,301.50 223.30,301.50" fill="none" stroke="#3a3ae8" stroke-width="0.77" stroke-dasharray="1.4 0.8" stroke-opacity="0.6"/>
<polyline points="144.30,267.30 146.30,273.70 148.80,283.70 153.00,292.80 158.00,299.50 163.00,304.50 167.20,307.00 170.50,310.30 173.80,311.50 183.80,311.70 184.00,315.70" fill="none" stroke="#e03a3a" stroke-width="1.1" />
<polyline points="184.00,315.70 204.60,315.70" fill="none" stroke="#e03a3a" stroke-width="0.77" stroke-dasharray="1.4 0.8" stroke-opacity="0.6"/>
<line x1="204.40" y1="267.20" x2="207.80" y2="267.20" stroke="#3a3ae8" stroke-width="0.7" />
<text x="209.30" y="268.70" font-size="4.4" textLength="10.6" lengthAdjust="spacingAndGlyphs" fill="#555" stroke="#555" stroke-width="0.035" font-style="italic">STAB1</text><text x="220.00" y="267.30" font-size="2.8" fill="#555" stroke="#555" stroke-width="0.03" font-style="italic">low</text>
<line x1="204.40" y1="272.00" x2="207.80" y2="272.00" stroke="#e03a3a" stroke-width="0.7" />
<text x="209.30" y="273.50" font-size="4.4" textLength="10.6" lengthAdjust="spacingAndGlyphs" fill="#555" stroke="#555" stroke-width="0.035" font-style="italic">STAB1</text><text x="220.00" y="272.10" font-size="2.8" fill="#555" stroke="#555" stroke-width="0.03" font-style="italic">high</text>
<line x1="204.40" y1="276.80" x2="207.80" y2="276.80" stroke="#b8d4ea" stroke-width="0.7" />
<text x="209.30" y="278.30" font-size="4.4" textLength="10.6" lengthAdjust="spacingAndGlyphs" fill="#555" stroke="#555" stroke-width="0.035" font-style="italic">CD274</text><text x="220.00" y="276.90" font-size="2.8" fill="#555" stroke="#555" stroke-width="0.03" font-style="italic">low</text>
<line x1="204.40" y1="281.60" x2="207.80" y2="281.60" stroke="#f2b8b8" stroke-width="0.7" />
<text x="209.30" y="283.10" font-size="4.4" textLength="10.6" lengthAdjust="spacingAndGlyphs" fill="#555" stroke="#555" stroke-width="0.035" font-style="italic">CD274</text><text x="220.00" y="281.70" font-size="2.8" fill="#555" stroke="#555" stroke-width="0.03" font-style="italic">high</text>
<text x="299.90" y="263.16" font-size="5.29" text-anchor="middle" fill="#111" stroke="#111" stroke-width="0.06" textLength="39.12" lengthAdjust="spacingAndGlyphs" >C6 TGFβ dominant</text>
<line x1="255.80" y1="265.00" x2="255.80" y2="326.70" stroke="#c0c0c0" stroke-width="0.5" />
<text x="253.70" y="269.33" font-size="4.07" text-anchor="end" fill="#222" stroke="#222" stroke-width="0.07" textLength="7.20" lengthAdjust="spacingAndGlyphs" >1.00</text>
<text x="253.70" y="283.53" font-size="4.07" text-anchor="end" fill="#222" stroke="#222" stroke-width="0.07" textLength="7.20" lengthAdjust="spacingAndGlyphs" >0.75</text>
<text x="253.70" y="297.73" font-size="4.07" text-anchor="end" fill="#222" stroke="#222" stroke-width="0.07" textLength="7.20" lengthAdjust="spacingAndGlyphs" >0.50</text>
<text x="253.70" y="311.93" font-size="4.07" text-anchor="end" fill="#222" stroke="#222" stroke-width="0.07" textLength="7.20" lengthAdjust="spacingAndGlyphs" >0.25</text>
<text x="253.70" y="326.13" font-size="4.07" text-anchor="end" fill="#222" stroke="#222" stroke-width="0.07" textLength="7.20" lengthAdjust="spacingAndGlyphs" >0.00</text>
<text x="242.40" y="294.00" font-size="4.45" text-anchor="middle" fill="#333" stroke="#333" stroke-width="0.06" transform="rotate(-90 242.40 292.00)" textLength="37.35" lengthAdjust="spacingAndGlyphs" >Survival probability</text>
<line x1="255.80" y1="326.60" x2="347.70" y2="326.60" stroke="#c8c8c8" stroke-width="0.45" />
<line x1="258.60" y1="326.70" x2="258.60" y2="327.50" stroke="#999" stroke-width="0.3" />
<text x="258.60" y="331.24" font-size="4.60" text-anchor="middle" fill="#111" stroke="#111" stroke-width="0.06" textLength="2.22" lengthAdjust="spacingAndGlyphs" >0</text>
<line x1="278.40" y1="326.70" x2="278.40" y2="327.50" stroke="#999" stroke-width="0.3" />
<text x="278.40" y="331.24" font-size="4.60" text-anchor="middle" fill="#111" stroke="#111" stroke-width="0.06" textLength="8.90" lengthAdjust="spacingAndGlyphs" >1000</text>
<line x1="297.50" y1="326.70" x2="297.50" y2="327.50" stroke="#999" stroke-width="0.3" />
<text x="297.50" y="331.24" font-size="4.60" text-anchor="middle" fill="#111" stroke="#111" stroke-width="0.06" textLength="8.90" lengthAdjust="spacingAndGlyphs" >2000</text>
<line x1="316.60" y1="326.70" x2="316.60" y2="327.50" stroke="#999" stroke-width="0.3" />
<text x="316.60" y="331.24" font-size="4.60" text-anchor="middle" fill="#111" stroke="#111" stroke-width="0.06" textLength="8.90" lengthAdjust="spacingAndGlyphs" >3000</text>
<line x1="335.70" y1="326.70" x2="335.70" y2="327.50" stroke="#999" stroke-width="0.3" />
<text x="335.70" y="331.24" font-size="4.60" text-anchor="middle" fill="#111" stroke="#111" stroke-width="0.06" textLength="8.90" lengthAdjust="spacingAndGlyphs" >4000</text>
<text x="299.75" y="324.64" font-size="4.60" text-anchor="middle" fill="#111" stroke="#111" stroke-width="0.06" textLength="20.96" lengthAdjust="spacingAndGlyphs" >Time (days)</text>
<text x="254.00" y="337.14" font-size="4.60" text-anchor="end" fill="#111" stroke="#111" stroke-width="0.06" textLength="11.11" lengthAdjust="spacingAndGlyphs" >At risk</text>
<text x="259.10" y="336.23" font-size="2.99" text-anchor="middle" fill="#222" stroke="#222" stroke-width="0.07" textLength="3.50" lengthAdjust="spacingAndGlyphs" >87</text>
<text x="278.90" y="336.23" font-size="2.99" text-anchor="middle" fill="#222" stroke="#222" stroke-width="0.07" textLength="3.50" lengthAdjust="spacingAndGlyphs" >32</text>
<text x="298.00" y="336.23" font-size="2.99" text-anchor="middle" fill="#222" stroke="#222" stroke-width="0.07" textLength="3.50" lengthAdjust="spacingAndGlyphs" >12</text>
<text x="317.10" y="336.23" font-size="2.99" text-anchor="middle" fill="#222" stroke="#222" stroke-width="0.07" textLength="1.75" lengthAdjust="spacingAndGlyphs" >3</text>
<text x="336.20" y="336.23" font-size="2.99" text-anchor="middle" fill="#222" stroke="#222" stroke-width="0.07" textLength="1.75" lengthAdjust="spacingAndGlyphs" >0</text>
<text x="259.10" y="339.73" font-size="2.99" text-anchor="middle" fill="#222" stroke="#222" stroke-width="0.07" textLength="3.50" lengthAdjust="spacingAndGlyphs" >91</text>
<text x="278.90" y="339.73" font-size="2.99" text-anchor="middle" fill="#222" stroke="#222" stroke-width="0.07" textLength="3.50" lengthAdjust="spacingAndGlyphs" >27</text>
<text x="298.00" y="339.73" font-size="2.99" text-anchor="middle" fill="#222" stroke="#222" stroke-width="0.07" textLength="3.50" lengthAdjust="spacingAndGlyphs" >10</text>
<text x="317.10" y="339.73" font-size="2.99" text-anchor="middle" fill="#222" stroke="#222" stroke-width="0.07" textLength="1.75" lengthAdjust="spacingAndGlyphs" >1</text>
<text x="336.20" y="339.73" font-size="2.99" text-anchor="middle" fill="#222" stroke="#222" stroke-width="0.07" textLength="1.75" lengthAdjust="spacingAndGlyphs" >1</text>
<text x="259.10" y="343.23" font-size="2.99" text-anchor="middle" fill="#222" stroke="#222" stroke-width="0.07" textLength="3.50" lengthAdjust="spacingAndGlyphs" >90</text>
<text x="278.90" y="343.23" font-size="2.99" text-anchor="middle" fill="#222" stroke="#222" stroke-width="0.07" textLength="3.50" lengthAdjust="spacingAndGlyphs" >31</text>
<text x="298.00" y="343.23" font-size="2.99" text-anchor="middle" fill="#222" stroke="#222" stroke-width="0.07" textLength="3.50" lengthAdjust="spacingAndGlyphs" >12</text>
<text x="317.10" y="343.23" font-size="2.99" text-anchor="middle" fill="#222" stroke="#222" stroke-width="0.07" textLength="1.75" lengthAdjust="spacingAndGlyphs" >3</text>
<text x="336.20" y="343.23" font-size="2.99" text-anchor="middle" fill="#222" stroke="#222" stroke-width="0.07" textLength="1.75" lengthAdjust="spacingAndGlyphs" >0</text>
<text x="259.10" y="346.73" font-size="2.99" text-anchor="middle" fill="#222" stroke="#222" stroke-width="0.07" textLength="3.50" lengthAdjust="spacingAndGlyphs" >88</text>
<text x="278.90" y="346.73" font-size="2.99" text-anchor="middle" fill="#222" stroke="#222" stroke-width="0.07" textLength="3.50" lengthAdjust="spacingAndGlyphs" >28</text>
<text x="298.00" y="346.73" font-size="2.99" text-anchor="middle" fill="#222" stroke="#222" stroke-width="0.07" textLength="3.50" lengthAdjust="spacingAndGlyphs" >10</text>
<text x="317.10" y="346.73" font-size="2.99" text-anchor="middle" fill="#222" stroke="#222" stroke-width="0.07" textLength="1.75" lengthAdjust="spacingAndGlyphs" >1</text>
<text x="336.20" y="346.73" font-size="2.99" text-anchor="middle" fill="#222" stroke="#222" stroke-width="0.07" textLength="1.75" lengthAdjust="spacingAndGlyphs" >1</text>
<line x1="341.50" y1="334.90" x2="345.90" y2="334.90" stroke="#3a3ae8" stroke-width="0.6" />
<line x1="341.50" y1="338.40" x2="345.90" y2="338.40" stroke="#e03a3a" stroke-width="0.6" />
<line x1="341.50" y1="341.90" x2="345.90" y2="341.90" stroke="#b8d4ea" stroke-width="0.6" />
<line x1="341.50" y1="345.40" x2="345.90" y2="345.40" stroke="#f2b8b8" stroke-width="0.6" />
<polyline points="259.20,267.30 262.00,270.50 266.00,275.00 270.00,279.50 275.00,285.00 279.00,288.00 283.00,291.00 290.00,296.00 296.70,299.50" fill="none" stroke="#b8d4ea" stroke-width="0.7" />
<polyline points="296.70,299.50 309.00,300.50 309.00,306.60 329.00,306.60" fill="none" stroke="#b8d4ea" stroke-width="0.48999999999999994" stroke-dasharray="1.4 0.8" stroke-opacity="0.6"/>
<polyline points="259.20,267.30 262.00,271.50 265.00,276.00 268.00,279.50 272.00,283.00 276.00,286.00 280.00,289.00 285.00,291.50 290.00,294.00 297.00,297.50" fill="none" stroke="#f2b8b8" stroke-width="0.7" />
<polyline points="297.00,297.50 309.00,303.00 309.00,309.30 339.60,309.30" fill="none" stroke="#f2b8b8" stroke-width="0.48999999999999994" stroke-dasharray="1.4 0.8" stroke-opacity="0.6"/>
<polyline points="259.20,267.30 261.30,268.80 266.10,272.40 272.40,275.90 277.90,279.40 282.80,284.20 288.30,285.60 291.80,289.10 295.30,291.20 296.70,295.30" fill="none" stroke="#5a5ae8" stroke-width="0.7" />
<polyline points="296.70,295.30 309.00,295.30 309.00,303.00 329.00,303.00" fill="none" stroke="#5a5ae8" stroke-width="0.48999999999999994" stroke-dasharray="1.4 0.8" stroke-opacity="0.6"/>
<polyline points="259.20,267.30 262.00,271.00 265.40,276.60 268.90,279.40 273.00,288.40 275.80,292.60 279.30,296.00 284.20,298.80 289.70,300.90 293.90,303.70 297.40,306.40 300.80,307.10" fill="none" stroke="#e85a5a" stroke-width="0.7" />
<polyline points="300.80,307.10 309.00,310.00 309.00,312.00 339.60,312.00" fill="none" stroke="#e85a5a" stroke-width="0.48999999999999994" stroke-dasharray="1.4 0.8" stroke-opacity="0.6"/>
<line x1="319.70" y1="267.20" x2="323.10" y2="267.20" stroke="#3a3ae8" stroke-width="0.7" />
<text x="324.60" y="268.70" font-size="4.4" textLength="10.6" lengthAdjust="spacingAndGlyphs" fill="#555" stroke="#555" stroke-width="0.035" font-style="italic">STAB1</text><text x="335.30" y="267.30" font-size="2.8" fill="#555" stroke="#555" stroke-width="0.03" font-style="italic">low</text>
<line x1="319.70" y1="272.00" x2="323.10" y2="272.00" stroke="#e03a3a" stroke-width="0.7" />
<text x="324.60" y="273.50" font-size="4.4" textLength="10.6" lengthAdjust="spacingAndGlyphs" fill="#555" stroke="#555" stroke-width="0.035" font-style="italic">STAB1</text><text x="335.30" y="272.10" font-size="2.8" fill="#555" stroke="#555" stroke-width="0.03" font-style="italic">high</text>
<line x1="319.70" y1="276.80" x2="323.10" y2="276.80" stroke="#b8d4ea" stroke-width="0.7" />
<text x="324.60" y="278.30" font-size="4.4" textLength="10.6" lengthAdjust="spacingAndGlyphs" fill="#555" stroke="#555" stroke-width="0.035" font-style="italic">CD274</text><text x="335.30" y="276.90" font-size="2.8" fill="#555" stroke="#555" stroke-width="0.03" font-style="italic">low</text>
<line x1="319.70" y1="281.60" x2="323.10" y2="281.60" stroke="#f2b8b8" stroke-width="0.7" />
<text x="324.60" y="283.10" font-size="4.4" textLength="10.6" lengthAdjust="spacingAndGlyphs" fill="#555" stroke="#555" stroke-width="0.035" font-style="italic">CD274</text><text x="335.30" y="281.70" font-size="2.8" fill="#555" stroke="#555" stroke-width="0.03" font-style="italic">high</text>
<text x="0.30" y="364.84" font-size="8.74" text-anchor="start" fill="#000" stroke="#000" stroke-width="0.06" font-weight="bold" textLength="5.91" lengthAdjust="spacingAndGlyphs" >G</text>
<line x1="24.80" y1="365.80" x2="24.80" y2="424.40" stroke="#bbb" stroke-width="0.5" />
<line x1="24.80" y1="424.40" x2="110.00" y2="424.40" stroke="#bbb" stroke-width="0.5" />
<text x="23.00" y="369.00" font-size="4.48" text-anchor="end" fill="#111" stroke="#111" stroke-width="0.06" textLength="7.59" lengthAdjust="spacingAndGlyphs" >1.00</text>
<text x="23.00" y="380.44" font-size="4.48" text-anchor="end" fill="#111" stroke="#111" stroke-width="0.06" textLength="5.42" lengthAdjust="spacingAndGlyphs" >0.8</text>
<text x="23.00" y="391.88" font-size="4.48" text-anchor="end" fill="#111" stroke="#111" stroke-width="0.06" textLength="5.42" lengthAdjust="spacingAndGlyphs" >0.6</text>
<text x="23.00" y="403.32" font-size="4.48" text-anchor="end" fill="#111" stroke="#111" stroke-width="0.06" textLength="5.42" lengthAdjust="spacingAndGlyphs" >0.4</text>
<text x="23.00" y="414.76" font-size="4.48" text-anchor="end" fill="#111" stroke="#111" stroke-width="0.06" textLength="5.42" lengthAdjust="spacingAndGlyphs" >0.2</text>
<text x="23.00" y="426.20" font-size="4.48" text-anchor="end" fill="#111" stroke="#111" stroke-width="0.06" textLength="2.17" lengthAdjust="spacingAndGlyphs" >0</text>
<text x="11.80" y="395.80" font-size="4.45" text-anchor="middle" fill="#333" stroke="#333" stroke-width="0.06" transform="rotate(-90 11.80 393.80)" textLength="37.35" lengthAdjust="spacingAndGlyphs" >Survival probability</text>
<text x="24.70" y="429.20" font-size="4.48" text-anchor="middle" fill="#111" stroke="#111" stroke-width="0.06" textLength="2.17" lengthAdjust="spacingAndGlyphs" >0</text>
<text x="49.60" y="429.20" font-size="4.48" text-anchor="middle" fill="#111" stroke="#111" stroke-width="0.06" textLength="6.51" lengthAdjust="spacingAndGlyphs" >200</text>
<text x="75.00" y="429.20" font-size="4.48" text-anchor="middle" fill="#111" stroke="#111" stroke-width="0.06" textLength="6.51" lengthAdjust="spacingAndGlyphs" >400</text>
<text x="100.40" y="429.20" font-size="4.48" text-anchor="middle" fill="#111" stroke="#111" stroke-width="0.06" textLength="6.51" lengthAdjust="spacingAndGlyphs" >600</text>
<text x="115.00" y="429.40" font-size="4.48" text-anchor="start" fill="#111" stroke="#111" stroke-width="0.06" textLength="20.44" lengthAdjust="spacingAndGlyphs" >Time (days)</text>
<polyline points="24.80,367.20 43.90,367.20 43.90,381.50 56.10,381.50 56.10,395.40 94.90,395.40 94.90,410.00 101.00,410.00" fill="none" stroke="#4a4ae6" stroke-width="0.9" />
<polyline points="24.80,367.60 37.70,367.60 37.70,376.40 42.30,376.40 42.30,385.90 44.00,385.90 44.00,395.00 45.00,395.00 45.00,404.80 70.50,404.80 70.50,414.60 81.80,414.60 81.80,424.40" fill="none" stroke="#e85050" stroke-width="0.9" />
<line x1="101.00" y1="408.80" x2="101.00" y2="411.20" stroke="#4a4ae6" stroke-width="0.5" />
<line x1="93.40" y1="369.70" x2="96.20" y2="369.70" stroke="#4a4ae6" stroke-width="0.6" />
<line x1="93.40" y1="374.90" x2="96.20" y2="374.90" stroke="#e85050" stroke-width="0.6" />
<text x="98.2" y="371.4" font-size="3.9" fill="#333" stroke="#333" stroke-width="0.05">IFNγ<tspan font-size="2.5" dy="-1.5">low</tspan></text>
<text x="98.2" y="376.4" font-size="3.9" fill="#333" stroke="#333" stroke-width="0.05">IFNγ<tspan font-size="2.5" dy="-1.5">high</tspan></text>
<text x="10.90" y="434.36" font-size="4.27" text-anchor="end" fill="#111" stroke="#111" stroke-width="0.07" textLength="9.72" lengthAdjust="spacingAndGlyphs" >At risk</text>
<text x="14.00" y="434.10" font-size="4.48" text-anchor="start" fill="#3a3ae6" stroke="#3a3ae6" stroke-width="0.06" textLength="7.15" lengthAdjust="spacingAndGlyphs" >Low</text>
<text x="14.00" y="439.30" font-size="4.39" text-anchor="start" fill="#e04040" stroke="#e04040" stroke-width="0.07" textLength="7.40" lengthAdjust="spacingAndGlyphs" >High</text>
<text x="24.70" y="434.10" font-size="4.09" text-anchor="middle" fill="#3a3ae6" stroke="#3a3ae6" stroke-width="0.06" textLength="2.17" lengthAdjust="spacingAndGlyphs" >4</text>
<text x="36.13" y="434.10" font-size="4.09" text-anchor="middle" fill="#3a3ae6" stroke="#3a3ae6" stroke-width="0.06" textLength="2.17" lengthAdjust="spacingAndGlyphs" >4</text>
<text x="47.56" y="434.10" font-size="4.09" text-anchor="middle" fill="#3a3ae6" stroke="#3a3ae6" stroke-width="0.06" textLength="2.17" lengthAdjust="spacingAndGlyphs" >3</text>
<text x="58.99" y="434.10" font-size="4.09" text-anchor="middle" fill="#3a3ae6" stroke="#3a3ae6" stroke-width="0.06" textLength="2.17" lengthAdjust="spacingAndGlyphs" >2</text>
<text x="70.42" y="434.10" font-size="4.09" text-anchor="middle" fill="#3a3ae6" stroke="#3a3ae6" stroke-width="0.06" textLength="2.17" lengthAdjust="spacingAndGlyphs" >2</text>
<text x="81.85" y="434.10" font-size="4.09" text-anchor="middle" fill="#3a3ae6" stroke="#3a3ae6" stroke-width="0.06" textLength="2.17" lengthAdjust="spacingAndGlyphs" >2</text>
<text x="93.28" y="434.10" font-size="4.09" text-anchor="middle" fill="#3a3ae6" stroke="#3a3ae6" stroke-width="0.06" textLength="2.17" lengthAdjust="spacingAndGlyphs" >2</text>
<text x="104.71" y="434.10" font-size="4.09" text-anchor="middle" fill="#3a3ae6" stroke="#3a3ae6" stroke-width="0.06" textLength="2.17" lengthAdjust="spacingAndGlyphs" >0</text>
<text x="24.70" y="439.00" font-size="4.09" text-anchor="middle" fill="#e04040" stroke="#e04040" stroke-width="0.06" textLength="2.17" lengthAdjust="spacingAndGlyphs" >6</text>
<text x="36.13" y="439.00" font-size="4.09" text-anchor="middle" fill="#e04040" stroke="#e04040" stroke-width="0.06" textLength="2.17" lengthAdjust="spacingAndGlyphs" >6</text>
<text x="47.56" y="439.00" font-size="4.09" text-anchor="middle" fill="#e04040" stroke="#e04040" stroke-width="0.06" textLength="2.17" lengthAdjust="spacingAndGlyphs" >2</text>
<text x="58.99" y="439.00" font-size="4.09" text-anchor="middle" fill="#e04040" stroke="#e04040" stroke-width="0.06" textLength="2.17" lengthAdjust="spacingAndGlyphs" >2</text>
<text x="70.42" y="439.00" font-size="4.09" text-anchor="middle" fill="#e04040" stroke="#e04040" stroke-width="0.06" textLength="2.17" lengthAdjust="spacingAndGlyphs" >2</text>
<text x="81.85" y="439.00" font-size="4.09" text-anchor="middle" fill="#e04040" stroke="#e04040" stroke-width="0.06" textLength="2.17" lengthAdjust="spacingAndGlyphs" >0</text>
</svg></body></html>
